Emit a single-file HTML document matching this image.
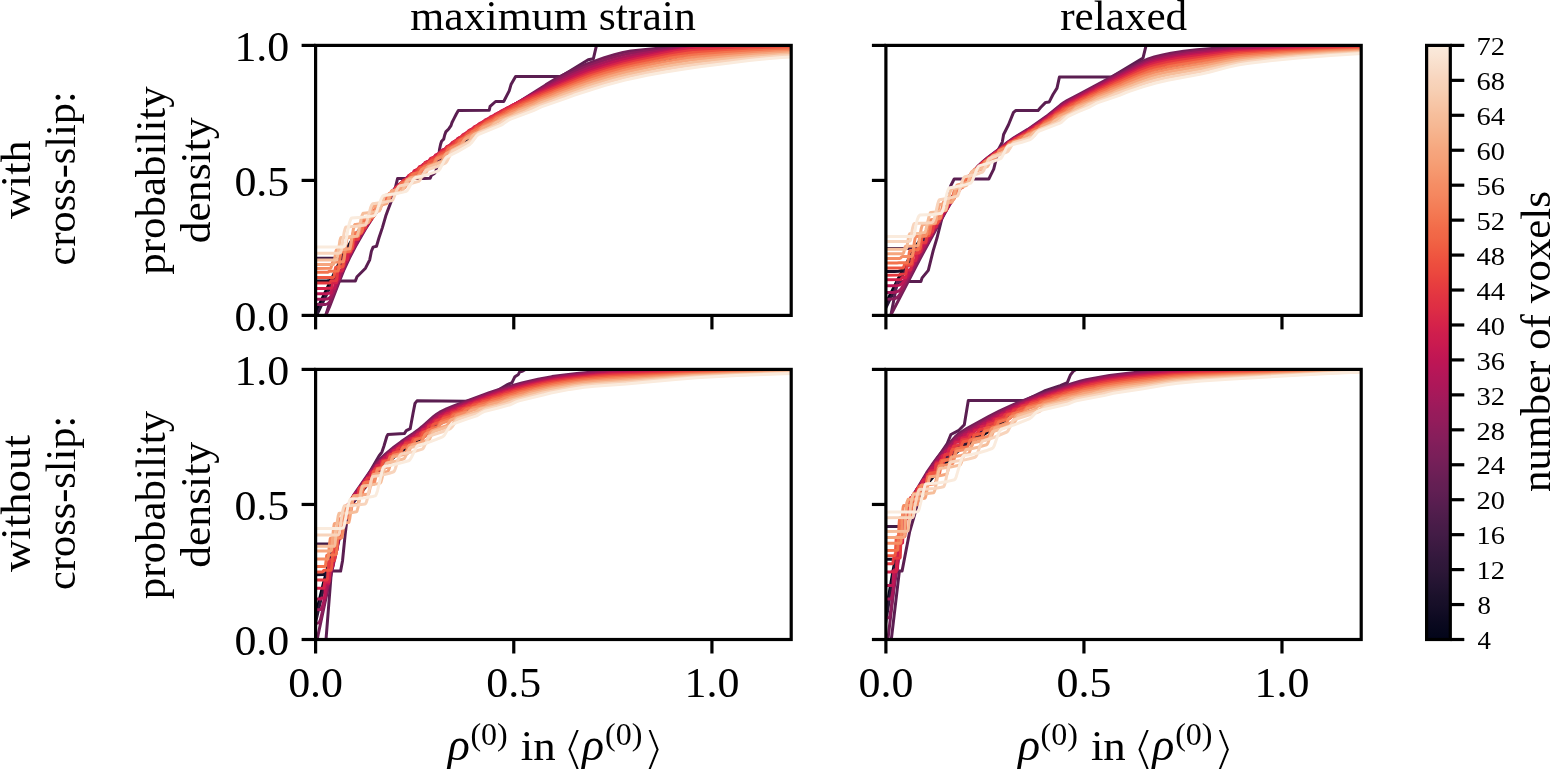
<!DOCTYPE html><html><head><meta charset="utf-8"><style>html,body{margin:0;padding:0;background:#fff;overflow:hidden}svg{display:block}text{font-family:"Liberation Serif", serif;fill:#000}</style></head><body>
<svg width="1550" height="769" viewBox="0 0 1550 769">
<rect width="1550" height="769" fill="#fff"/>
<defs>
<clipPath id="c1"><rect x="315.6" y="45.4" width="475.60" height="270.00"/></clipPath>
<clipPath id="c2"><rect x="885.9" y="45.4" width="475.30" height="270.00"/></clipPath>
<clipPath id="c3"><rect x="315.6" y="369.4" width="475.60" height="270.10"/></clipPath>
<clipPath id="c4"><rect x="885.9" y="369.4" width="475.30" height="270.10"/></clipPath>
<linearGradient id="cb" x1="0" y1="0" x2="0" y2="1"><stop offset="0.0000" stop-color="#faebdd"/><stop offset="0.0147" stop-color="#fae6d6"/><stop offset="0.0294" stop-color="#f9e0cd"/><stop offset="0.0441" stop-color="#f8dac5"/><stop offset="0.0588" stop-color="#f8d4bc"/><stop offset="0.0735" stop-color="#f7d0b5"/><stop offset="0.0882" stop-color="#f7caac"/><stop offset="0.1029" stop-color="#f7c4a4"/><stop offset="0.1176" stop-color="#f6be9b"/><stop offset="0.1324" stop-color="#f6b995"/><stop offset="0.1471" stop-color="#f6b38d"/><stop offset="0.1618" stop-color="#f6ad85"/><stop offset="0.1765" stop-color="#f6a67e"/><stop offset="0.1912" stop-color="#f6a178"/><stop offset="0.2059" stop-color="#f69b71"/><stop offset="0.2206" stop-color="#f5946b"/><stop offset="0.2353" stop-color="#f58d64"/><stop offset="0.2500" stop-color="#f58860"/><stop offset="0.2647" stop-color="#f4815a"/><stop offset="0.2794" stop-color="#f47a54"/><stop offset="0.2941" stop-color="#f3734e"/><stop offset="0.3088" stop-color="#f26b49"/><stop offset="0.3235" stop-color="#f16646"/><stop offset="0.3382" stop-color="#f05e42"/><stop offset="0.3529" stop-color="#ef5640"/><stop offset="0.3676" stop-color="#ed4e3e"/><stop offset="0.3824" stop-color="#eb483e"/><stop offset="0.3971" stop-color="#e8403e"/><stop offset="0.4118" stop-color="#e53940"/><stop offset="0.4265" stop-color="#e13342"/><stop offset="0.4412" stop-color="#de2e44"/><stop offset="0.4559" stop-color="#d92847"/><stop offset="0.4706" stop-color="#d5224a"/><stop offset="0.4853" stop-color="#cf1e4d"/><stop offset="0.5000" stop-color="#cb1b4f"/><stop offset="0.5147" stop-color="#c51852"/><stop offset="0.5294" stop-color="#bf1654"/><stop offset="0.5441" stop-color="#b91657"/><stop offset="0.5588" stop-color="#b21758"/><stop offset="0.5735" stop-color="#ad1759"/><stop offset="0.5882" stop-color="#a6195a"/><stop offset="0.6029" stop-color="#9f1a5b"/><stop offset="0.6176" stop-color="#981b5b"/><stop offset="0.6324" stop-color="#931c5b"/><stop offset="0.6471" stop-color="#8c1d5b"/><stop offset="0.6618" stop-color="#861e5b"/><stop offset="0.6765" stop-color="#7f1e5a"/><stop offset="0.6912" stop-color="#7a1f59"/><stop offset="0.7059" stop-color="#731f58"/><stop offset="0.7206" stop-color="#6d1f56"/><stop offset="0.7353" stop-color="#661f54"/><stop offset="0.7500" stop-color="#611f53"/><stop offset="0.7647" stop-color="#5b1e51"/><stop offset="0.7794" stop-color="#541e4e"/><stop offset="0.7941" stop-color="#4e1d4b"/><stop offset="0.8088" stop-color="#481c48"/><stop offset="0.8235" stop-color="#431c46"/><stop offset="0.8382" stop-color="#3d1a42"/><stop offset="0.8529" stop-color="#37193f"/><stop offset="0.8676" stop-color="#31183b"/><stop offset="0.8824" stop-color="#2d1738"/><stop offset="0.8971" stop-color="#271534"/><stop offset="0.9118" stop-color="#211330"/><stop offset="0.9265" stop-color="#1b112b"/><stop offset="0.9412" stop-color="#170f28"/><stop offset="0.9559" stop-color="#110c24"/><stop offset="0.9706" stop-color="#0b0920"/><stop offset="0.9853" stop-color="#06071c"/><stop offset="1.0000" stop-color="#03051a"/></linearGradient>
</defs>
<g clip-path="url(#c1)" fill="none" stroke-width="3" stroke-linejoin="round" stroke-linecap="butt">
<path d="M311.6,320.5 L339.8,261.6 L343.4,254.5 L346.5,248.7 L352.1,239.9 L359.2,229.8 L367.2,219.8 L375.1,210.7 L382.6,202.8 L389.0,196.5 L394.1,191.9 L398.9,188.1 L437.0,162.2 L444.9,156.3 L463.6,141.9 L472.7,135.3 L481.4,129.7 L494.9,121.9 L508.8,114.5 L542.9,96.9 L554.0,91.5 L564.7,86.7 L579.0,80.8 L590.9,76.5 L609.1,70.6 L623.0,66.9 L632.5,65.0 L653.6,61.8 L671.8,59.5 L690.0,57.6 L721.8,55.1 L751.1,53.2 L775.3,51.9 L799.1,51.1" stroke="#03051a"/>
<path d="M311.6,281.1 L327.1,281.0 L329.5,280.4 L330.7,279.8 L331.5,279.1 L333.1,277.0 L334.6,274.3 L342.6,257.8 L347.3,249.0 L352.9,240.0 L360.0,229.8 L368.8,218.5 L377.5,208.4 L389.0,196.4 L393.3,192.3 L397.3,189.0 L403.7,184.3 L436.6,161.8 L465.9,139.6 L472.7,134.8 L478.6,130.8 L489.7,124.2 L502.8,116.9 L541.7,96.4 L555.2,89.6 L575.4,80.8 L584.1,77.4 L592.1,74.6 L606.0,70.1 L616.3,67.1 L625.4,64.8 L634.1,63.2 L649.2,61.0 L664.7,59.0 L679.7,57.3 L695.2,56.0 L726.9,53.8 L753.1,52.3 L776.1,51.2 L799.1,50.5" stroke="#170f28"/>
<path d="M311.6,320.8 L314.0,320.8 L327.5,292.7 L342.2,260.4 L345.7,253.4 L350.1,245.8 L357.6,234.2 L366.4,222.1 L374.3,212.3 L383.8,201.7 L389.0,196.2 L393.0,192.4 L396.9,189.0 L401.7,185.3 L437.0,160.9 L463.2,141.1 L472.3,134.5 L482.6,127.8 L497.3,119.3 L546.9,92.6 L556.4,87.9 L567.1,83.0 L580.2,77.5 L591.3,73.3 L609.5,67.5 L623.0,63.9 L632.1,62.1 L652.4,59.2 L670.6,57.0 L688.9,55.3 L718.2,53.4 L749.5,51.7 L774.5,50.6 L799.1,49.9" stroke="#2d1738"/>
<path d="M311.6,258.2 L338.2,258.1 L341.0,257.8 L343.0,256.9 L344.6,255.5 L346.1,253.4 L354.1,240.7 L359.2,232.9 L365.6,223.9 L371.9,215.6 L378.7,207.6 L388.6,196.5 L393.7,191.4 L399.3,186.8 L404.5,183.0 L437.4,160.0 L468.3,136.8 L475.1,132.1 L481.0,128.3 L498.5,118.1 L546.9,91.5 L558.4,85.7 L573.8,78.7 L582.6,75.1 L590.9,72.1 L605.2,67.4 L615.5,64.3 L622.6,62.5 L629.4,61.1 L648.0,58.4 L673.4,55.5 L698.8,53.6 L754.3,50.7 L776.5,49.9 L799.1,49.3" stroke="#431c46"/>
<path d="M322.5,318.0 L325.9,314.7 L336.8,280.9 L355.4,280.9 L357.0,276.7 L365.5,268.2 L369.7,259.8 L371.4,251.3 L373.1,247.1 L376.5,246.2 L379.0,237.8 L382.4,227.6 L385.8,215.8 L388.3,209.0 L390.9,202.3 L392.6,198.0 L395.9,185.4 L397.6,178.4 L423.9,178.4 L430.2,178.2 L431.2,175.6 L434.3,173.5 L435.9,171.4 L437.5,164.1 L438.5,160.0 L439.5,149.5 L440.6,144.3 L441.6,141.2 L443.7,139.1 L444.7,135.0 L445.8,131.9 L448.9,128.7 L451.0,125.6 L452.0,122.5 L454.1,118.3 L456.2,114.2 L458.3,110.6 L489.2,110.3 L490.1,106.4 L495.6,101.5 L503.7,101.5 L509.2,90.9 L511.0,84.6 L515.6,76.4 L561.1,76.4 L569.5,71.2 L588.2,59.8 L593.4,58.7 L596.5,45.4 L800.0,45.4" stroke="#5b1e51"/>
<path d="M311.6,320.8 L323.1,320.8 L323.5,320.7 L329.5,306.9 L339.8,280.1 L344.2,269.3 L349.3,258.3 L355.7,246.0 L365.2,229.4 L374.3,215.2 L387.0,197.7 L391.4,192.3 L394.9,188.4 L398.5,185.1 L402.9,181.5 L424.3,165.3 L455.2,142.6 L472.3,130.5 L487.8,120.4 L521.9,100.1 L545.7,84.9 L555.6,78.9 L564.3,74.3 L574.2,69.4 L582.2,65.8 L589.7,62.8 L604.4,57.7 L614.3,54.7 L623.0,52.4 L630.9,51.0 L645.6,49.4 L660.7,48.1 L675.4,47.1 L689.6,46.5 L742.8,45.6 L799.1,45.4" stroke="#731f58"/>
<path d="M311.6,304.6 L322.3,304.6 L325.5,304.4 L326.7,304.1 L327.9,303.6 L329.5,302.1 L330.7,300.2 L332.3,296.9 L341.0,275.0 L346.1,263.2 L352.9,249.8 L360.4,236.4 L369.5,221.7 L378.7,208.7 L385.4,199.8 L389.8,194.4 L393.7,190.0 L398.1,185.7 L406.0,179.0 L423.5,165.5 L458.8,139.5 L475.5,127.9 L484.6,122.0 L495.3,115.5 L523.1,99.6 L544.9,86.7 L554.8,81.2 L564.7,76.2 L575.4,71.1 L583.3,67.6 L590.5,64.9 L604.8,60.0 L615.1,56.9 L624.2,54.6 L632.5,53.0 L649.6,50.8 L665.5,49.0 L679.3,47.7 L692.0,47.0 L709.9,46.5 L742.0,45.9 L799.1,45.5" stroke="#8c1d5b"/>
<path d="M311.6,299.2 L323.1,299.2 L326.7,299.0 L327.9,298.7 L329.1,298.2 L330.7,296.6 L331.9,294.6 L333.1,292.1 L341.0,273.0 L346.9,260.0 L354.1,246.2 L361.6,233.3 L366.8,225.2 L371.5,218.2 L376.7,211.1 L382.2,203.9 L387.4,197.5 L391.8,192.5 L395.7,188.3 L400.5,183.8 L409.2,176.4 L421.9,166.3 L459.6,138.5 L475.5,127.4 L487.0,120.1 L500.4,112.2 L530.6,95.6 L545.7,87.5 L556.8,82.0 L571.8,74.9 L581.4,70.8 L589.7,67.5 L604.4,62.6 L616.3,59.0 L626.6,56.5 L636.5,54.6 L655.9,51.6 L669.8,49.7 L682.1,48.3 L693.6,47.4 L712.7,46.8 L742.0,46.2 L799.1,45.6" stroke="#a6195a"/>
<path d="M311.6,293.8 L327.1,293.7 L328.3,293.2 L330.7,293.2 L331.1,293.0 L331.9,288.9 L332.3,288.4 L334.6,288.3 L335.0,287.5 L335.8,279.8 L336.2,279.3 L338.6,279.1 L339.0,278.3 L339.8,270.8 L340.2,270.3 L342.6,270.1 L343.0,269.3 L343.8,262.2 L344.2,261.8 L346.5,261.5 L346.9,260.8 L347.7,254.3 L348.1,253.8 L350.5,253.6 L350.9,252.8 L351.7,246.8 L352.1,246.4 L354.5,246.1 L354.9,245.4 L355.7,239.9 L356.1,239.6 L358.4,239.2 L358.8,238.5 L359.6,233.5 L360.0,233.1 L362.4,232.7 L362.8,232.1 L363.6,227.4 L364.0,227.1 L366.4,226.6 L366.8,226.0 L367.6,221.6 L368.0,221.3 L370.3,220.8 L370.7,220.2 L371.5,216.1 L371.9,215.8 L374.3,215.3 L374.7,214.7 L375.5,210.8 L375.9,210.6 L378.3,210.0 L378.7,209.5 L379.5,205.8 L379.9,205.6 L382.2,205.0 L382.6,204.4 L383.4,201.0 L386.2,200.2 L386.6,199.6 L387.4,196.4 L390.2,195.6 L390.6,195.0 L391.4,192.1 L394.1,191.2 L394.5,190.7 L395.3,188.0 L398.1,187.2 L398.5,186.7 L399.3,184.2 L402.1,183.3 L402.5,182.9 L403.3,180.6 L406.0,179.7 L406.4,179.2 L407.2,177.1 L410.0,176.2 L410.4,175.8 L411.2,173.8 L414.0,172.8 L414.4,172.4 L415.2,170.5 L417.9,169.6 L418.3,169.2 L419.1,167.5 L421.9,166.5 L422.3,166.1 L423.1,164.5 L425.9,163.5 L426.3,163.1 L427.1,161.6 L429.8,160.6 L430.2,160.2 L431.0,158.7 L433.8,157.7 L434.2,157.3 L435.0,155.9 L437.8,154.8 L438.2,154.4 L439.0,152.9 L441.7,151.8 L442.9,150.0 L445.7,148.8 L446.9,147.0 L449.7,145.8 L450.9,144.1 L453.6,142.8 L454.8,141.1 L457.6,139.8 L458.8,138.2 L461.6,136.9 L462.8,135.4 L465.5,134.0 L466.7,132.6 L469.5,131.2 L470.7,129.8 L473.5,128.4 L474.7,127.2 L477.4,125.8 L478.6,124.6 L481.4,123.3 L482.6,122.1 L485.4,120.8 L486.6,119.7 L489.3,118.4 L490.5,117.4 L493.3,116.1 L494.5,115.1 L497.3,113.8 L498.5,112.9 L501.2,111.6 L502.4,110.7 L505.2,109.4 L506.4,108.5 L509.2,107.3 L510.4,106.4 L513.1,105.1 L514.3,104.3 L517.1,103.1 L518.3,102.3 L521.1,101.0 L522.3,100.2 L534.2,94.3 L550.0,86.8 L573.8,76.2 L585.7,71.3 L597.6,67.2 L613.5,62.3 L625.0,59.2 L634.9,57.0 L657.1,52.9 L670.6,50.7 L682.9,49.0 L694.0,47.9 L712.7,47.2 L741.2,46.5 L799.1,45.8" stroke="#bf1654"/>
<path d="M311.6,288.4 L325.9,288.4 L327.5,288.2 L331.1,288.2 L331.5,288.0 L331.9,287.1 L332.7,282.9 L336.6,282.6 L337.0,280.3 L337.8,272.4 L338.2,271.1 L341.8,270.9 L342.2,270.3 L343.4,260.4 L343.8,259.8 L347.3,259.4 L347.7,258.3 L348.9,249.4 L352.9,248.8 L353.3,247.0 L354.1,241.0 L354.5,239.8 L358.0,239.3 L358.4,239.0 L359.6,231.8 L360.0,231.2 L363.6,230.6 L364.0,230.0 L365.2,223.5 L365.6,223.3 L369.2,222.6 L369.5,221.6 L370.3,217.2 L370.7,216.0 L374.7,215.1 L375.9,209.7 L376.3,209.1 L379.9,208.3 L380.3,207.9 L381.4,202.9 L381.8,202.6 L385.4,201.7 L385.8,201.0 L387.0,196.6 L391.0,195.5 L392.2,191.5 L392.6,190.8 L396.1,189.8 L396.5,189.5 L397.7,185.7 L398.1,185.3 L401.7,184.2 L402.1,183.8 L403.3,180.3 L407.2,179.0 L408.8,175.3 L412.8,173.9 L414.0,171.0 L414.4,170.6 L417.9,169.4 L418.3,169.1 L419.5,166.6 L423.5,165.2 L423.9,164.7 L425.1,162.5 L429.0,161.1 L430.2,158.9 L430.6,158.5 L434.6,157.0 L435.8,154.8 L439.8,153.1 L440.2,152.7 L441.3,150.6 L445.3,148.9 L446.9,146.5 L450.9,144.6 L452.1,142.7 L456.0,140.7 L456.4,140.4 L457.6,138.5 L461.6,136.5 L463.2,134.5 L467.1,132.5 L468.7,130.6 L472.3,128.8 L472.7,128.6 L473.9,127.1 L477.8,125.1 L479.4,123.5 L483.4,121.7 L485.0,120.2 L488.9,118.3 L490.1,117.2 L494.1,115.3 L495.7,114.0 L499.7,112.2 L501.2,111.0 L505.2,109.2 L506.4,108.3 L510.8,106.3 L511.9,105.4 L515.9,103.7 L517.5,102.7 L521.5,101.0 L523.1,100.0 L533.8,95.2 L559.5,84.6 L577.4,77.0 L589.7,72.2 L604.8,67.3 L622.2,62.3 L636.5,58.8 L659.5,53.9 L671.0,51.7 L680.9,50.0 L689.6,48.9 L698.0,48.2 L720.2,47.3 L744.8,46.6 L799.1,45.9" stroke="#d5224a"/>
<path d="M311.6,283.0 L329.5,283.0 L330.3,282.5 L331.1,280.7 L336.2,280.5 L336.6,279.6 L338.2,267.0 L338.6,266.7 L343.4,266.3 L343.8,265.5 L345.4,253.0 L345.7,252.4 L350.5,251.9 L350.9,251.5 L352.5,240.7 L352.9,239.8 L358.0,239.0 L358.4,237.6 L359.6,230.1 L360.0,228.9 L365.2,228.1 L365.6,227.1 L366.8,220.5 L367.2,219.2 L372.3,218.1 L372.7,217.6 L374.3,210.4 L374.7,210.0 L379.5,209.0 L379.9,208.7 L381.4,202.4 L381.8,201.8 L387.0,200.5 L387.4,199.6 L388.6,195.0 L389.0,194.2 L394.1,192.8 L394.5,192.2 L395.7,188.1 L396.1,187.2 L401.3,185.6 L401.7,185.2 L403.3,180.7 L403.7,180.4 L408.4,178.9 L408.8,178.7 L410.4,174.6 L410.8,174.2 L416.0,172.5 L417.5,169.1 L417.9,168.6 L423.1,166.9 L423.5,166.5 L425.1,163.5 L430.2,161.7 L430.6,161.3 L432.2,158.5 L437.8,156.2 L439.4,153.3 L439.8,153.0 L444.9,150.7 L446.9,147.6 L452.1,145.2 L454.0,142.2 L459.2,139.7 L459.6,139.4 L461.2,137.0 L466.7,134.1 L468.3,131.9 L473.9,129.1 L475.9,126.8 L481.0,124.4 L483.0,122.4 L488.1,120.1 L490.1,118.3 L495.7,115.7 L497.7,114.1 L502.8,111.8 L504.8,110.3 L510.0,108.1 L511.9,106.7 L517.1,104.5 L519.1,103.2 L524.6,100.9 L526.6,99.7 L531.8,97.7 L533.8,96.6 L538.9,94.6 L540.9,93.6 L560.7,85.6 L577.0,78.8 L591.7,73.2 L607.1,68.4 L624.2,63.6 L636.5,60.7 L663.1,55.1 L673.4,53.1 L682.5,51.7 L690.8,50.6 L698.8,50.0 L722.6,48.9 L747.6,47.9 L772.6,47.3 L799.1,46.9" stroke="#e53940"/>
<path d="M311.6,277.6 L333.1,277.5 L333.8,277.1 L334.2,276.0 L335.4,268.1 L335.8,267.2 L342.2,266.9 L342.6,266.6 L343.0,264.7 L344.6,251.5 L345.0,249.7 L345.4,249.3 L351.7,248.7 L352.1,248.1 L353.7,237.5 L354.1,235.4 L354.5,234.3 L361.2,233.4 L361.6,232.5 L362.0,230.6 L363.2,223.6 L363.6,222.1 L364.0,221.5 L368.8,220.7 L370.7,220.2 L371.1,219.2 L372.3,213.3 L373.1,210.5 L373.5,210.2 L379.9,208.9 L380.3,208.5 L381.8,202.3 L382.6,200.2 L389.4,198.6 L389.8,198.0 L390.2,196.9 L391.8,191.4 L392.2,191.0 L398.9,189.1 L399.3,188.4 L401.3,182.8 L401.7,182.5 L408.0,180.7 L408.4,180.4 L410.0,176.4 L410.8,175.0 L417.5,172.8 L418.3,171.7 L419.5,169.0 L420.3,167.9 L427.1,165.7 L427.5,165.3 L429.4,161.6 L436.6,158.9 L439.0,154.8 L445.7,151.9 L446.5,151.0 L447.7,148.7 L448.5,147.7 L455.2,144.5 L457.6,140.8 L464.7,137.1 L467.1,133.9 L473.9,130.5 L476.6,127.5 L483.4,124.4 L486.2,121.9 L492.9,118.8 L495.3,116.8 L502.0,113.8 L504.8,111.8 L511.6,108.9 L514.3,107.1 L521.1,104.2 L523.5,102.8 L530.6,99.9 L533.0,98.6 L539.7,96.0 L542.1,94.8 L558.8,88.3 L579.8,79.7 L589.7,76.0 L607.9,70.2 L621.0,66.5 L635.7,63.0 L655.1,58.9 L668.2,56.3 L678.9,54.4 L688.9,53.1 L698.0,52.2 L723.0,50.7 L748.8,49.5 L773.3,48.7 L799.1,48.1" stroke="#ef5640"/>
<path d="M311.6,272.2 L327.5,272.2 L328.3,272.0 L329.1,271.3 L329.5,271.2 L337.8,271.1 L338.2,270.7 L338.6,269.4 L340.2,256.7 L341.0,252.4 L341.4,252.0 L349.7,251.2 L350.1,250.3 L350.5,248.2 L352.1,237.0 L352.9,233.5 L353.3,233.1 L361.6,232.1 L362.0,231.4 L362.4,230.0 L364.0,221.3 L364.8,218.4 L365.2,218.0 L373.5,216.6 L373.9,216.1 L374.3,215.0 L375.9,208.0 L376.7,205.5 L377.1,205.0 L383.8,203.7 L385.4,203.3 L385.8,203.0 L386.6,200.8 L388.2,195.1 L389.0,193.7 L394.9,192.3 L397.3,191.6 L397.7,191.3 L398.5,189.6 L400.1,184.7 L400.9,183.4 L406.4,182.0 L409.6,180.9 L410.4,179.5 L412.0,175.5 L412.8,174.3 L421.5,171.6 L422.3,170.5 L423.9,167.1 L424.7,166.1 L433.4,163.1 L434.2,162.1 L435.8,159.0 L436.6,157.9 L445.3,154.2 L446.1,153.2 L447.7,150.2 L448.5,149.1 L457.2,144.7 L458.0,143.9 L460.4,140.1 L469.1,135.6 L469.9,134.8 L472.3,131.6 L481.0,127.4 L481.8,126.9 L484.2,124.4 L493.3,120.2 L496.5,117.6 L505.2,113.8 L508.4,111.6 L517.1,107.9 L520.3,105.9 L529.0,102.4 L532.2,100.7 L540.9,97.4 L544.1,95.8 L552.8,92.6 L556.0,91.1 L564.7,87.8 L579.8,81.8 L592.1,77.3 L606.7,72.8 L622.6,68.4 L634.9,65.4 L655.5,61.1 L668.2,58.6 L678.9,56.8 L688.9,55.4 L698.4,54.4 L725.0,52.6 L750.7,51.1 L774.5,50.1 L799.1,49.4" stroke="#f3734e"/>
<path d="M311.6,268.4 L330.3,268.3 L330.7,268.1 L331.1,267.5 L332.3,262.9 L332.7,262.1 L339.8,261.9 L343.4,261.5 L344.2,258.6 L346.1,243.2 L346.9,238.8 L347.3,237.7 L347.7,237.3 L355.7,236.6 L358.0,236.3 L358.4,235.9 L359.2,233.1 L361.2,222.3 L362.0,219.5 L362.4,218.8 L368.8,217.9 L373.1,217.1 L373.9,215.6 L376.3,205.9 L377.1,203.9 L377.5,203.6 L383.8,202.4 L388.2,201.3 L389.0,199.8 L391.4,192.1 L392.2,190.7 L402.9,187.9 L403.7,187.0 L406.0,180.9 L406.8,179.5 L407.2,179.2 L412.8,177.7 L417.9,176.1 L418.7,175.1 L420.7,170.9 L421.9,169.1 L429.4,166.7 L433.0,165.4 L433.8,164.4 L436.2,159.9 L437.0,159.0 L442.5,156.7 L447.7,154.4 L448.9,152.9 L450.9,149.1 L451.7,148.0 L462.8,142.2 L463.6,141.3 L465.9,137.6 L466.7,136.7 L477.4,131.4 L478.2,130.8 L481.4,127.4 L492.5,122.4 L496.5,119.1 L507.6,114.3 L511.6,111.7 L522.3,107.3 L526.2,105.0 L537.3,100.8 L541.3,98.8 L552.4,94.7 L556.0,93.1 L567.1,89.0 L571.4,87.1 L585.7,81.8 L592.5,79.5 L606.4,75.2 L622.6,70.7 L635.3,67.7 L655.5,63.5 L668.2,61.1 L679.3,59.2 L689.6,57.8 L699.2,56.7 L726.9,54.5 L752.3,52.8 L775.3,51.6 L799.1,50.7" stroke="#f58d64"/>
<path d="M311.6,264.6 L331.9,264.6 L333.1,264.5 L333.5,264.3 L333.8,263.5 L334.2,261.8 L335.8,251.8 L336.2,250.4 L336.6,249.7 L344.2,249.4 L349.7,248.7 L350.5,246.3 L353.3,229.5 L354.5,225.1 L354.9,224.5 L355.3,224.4 L362.0,223.8 L368.0,222.9 L368.4,222.4 L369.2,220.3 L371.9,208.8 L372.7,206.8 L373.1,206.2 L381.8,204.8 L386.2,203.8 L386.6,203.6 L387.8,201.0 L390.2,193.4 L391.4,191.1 L391.8,190.9 L400.1,189.1 L404.9,187.8 L406.0,186.0 L408.4,180.2 L409.6,178.3 L410.0,178.0 L416.8,176.3 L423.1,174.3 L424.3,172.9 L427.1,167.6 L428.3,166.3 L435.0,164.0 L441.3,161.5 L442.5,160.2 L445.3,154.8 L446.5,153.3 L454.0,149.7 L460.0,146.4 L461.2,144.9 L463.6,140.8 L464.7,139.4 L478.2,132.6 L479.4,131.6 L482.2,128.5 L483.4,127.7 L496.5,121.9 L501.2,118.3 L515.1,112.5 L519.9,109.6 L533.4,104.4 L538.1,102.0 L551.6,97.1 L556.4,95.0 L569.9,90.1 L575.0,88.0 L592.9,81.7 L610.7,76.3 L619.8,73.8 L631.3,71.0 L647.2,67.6 L663.5,64.5 L675.4,62.4 L687.3,60.6 L698.4,59.3 L727.7,56.5 L753.1,54.5 L776.1,53.1 L799.1,52.1" stroke="#f6a67e"/>
<path d="M311.6,260.0 L334.6,260.0 L336.2,259.8 L336.6,259.6 L337.0,258.8 L337.4,257.3 L339.8,241.1 L340.6,238.2 L341.0,237.5 L350.1,237.0 L356.9,236.1 L357.3,235.7 L358.0,233.5 L361.2,218.6 L362.0,215.7 L362.8,213.8 L363.2,213.3 L363.6,213.2 L372.7,212.2 L378.7,211.1 L379.5,210.8 L380.7,208.4 L383.8,198.2 L384.6,196.4 L385.4,195.3 L394.9,193.5 L401.7,191.7 L402.9,190.0 L406.0,182.6 L406.8,181.2 L407.6,180.3 L416.8,178.0 L423.9,175.8 L425.1,174.5 L428.3,168.6 L429.0,167.4 L429.8,166.6 L438.6,163.4 L446.1,160.1 L447.3,158.7 L450.5,152.6 L452.1,150.3 L460.8,145.9 L468.3,141.7 L469.5,140.5 L472.7,135.9 L474.3,134.3 L490.5,127.0 L491.7,126.3 L494.9,123.4 L496.5,122.3 L513.1,115.4 L519.1,111.8 L535.4,105.6 L541.3,102.7 L557.6,96.9 L563.5,94.4 L586.1,86.3 L606.0,80.1 L613.1,78.1 L628.2,74.2 L639.7,71.7 L656.3,68.4 L672.2,65.5 L685.7,63.4 L698.4,61.8 L728.5,58.6 L753.9,56.3 L776.5,54.7 L799.1,53.5" stroke="#f6be9b"/>
<path d="M311.6,253.3 L338.6,253.2 L340.2,252.9 L341.0,251.5 L341.4,249.8 L344.2,232.1 L345.0,229.1 L345.7,227.3 L346.1,226.9 L346.5,226.9 L356.5,226.3 L365.2,225.1 L366.0,224.0 L366.8,221.9 L370.7,207.4 L371.9,204.7 L372.7,203.8 L383.8,202.3 L389.8,201.1 L392.2,200.5 L393.0,199.5 L393.7,197.9 L397.3,188.8 L398.5,186.7 L399.3,186.0 L410.0,183.8 L418.7,181.4 L419.5,180.7 L420.3,179.6 L424.3,172.3 L425.9,170.3 L436.6,166.8 L445.3,163.1 L446.1,162.4 L446.9,161.3 L450.9,153.5 L452.4,151.3 L453.2,150.8 L463.2,145.7 L472.3,140.6 L473.9,138.9 L477.0,134.8 L479.0,132.9 L498.9,124.4 L500.4,123.4 L504.4,120.3 L506.0,119.4 L525.4,111.8 L532.6,108.1 L552.4,101.0 L559.5,98.1 L585.7,88.9 L593.3,86.5 L610.7,81.3 L619.0,79.0 L630.9,76.1 L646.0,73.0 L664.3,69.5 L680.5,66.8 L695.2,64.8 L716.6,62.2 L740.4,59.5 L761.0,57.5 L779.7,56.1 L799.1,55.0" stroke="#f8d4bc"/>
<path d="M311.6,247.1 L342.6,246.9 L344.2,246.6 L345.0,245.6 L345.7,242.8 L347.7,230.7 L349.3,223.4 L350.5,219.7 L351.3,218.3 L351.7,217.9 L365.2,216.9 L371.9,216.0 L374.3,215.6 L374.7,215.4 L375.5,214.3 L376.7,211.6 L381.1,199.1 L382.2,196.8 L383.4,195.6 L395.3,193.8 L402.1,192.4 L406.4,191.2 L407.2,190.5 L408.4,188.7 L413.2,179.7 L414.8,177.9 L415.6,177.5 L421.9,176.1 L428.3,174.4 L434.2,172.4 L438.2,170.9 L439.0,170.1 L440.2,168.5 L444.5,159.9 L445.7,158.0 L446.5,157.2 L458.0,151.4 L469.5,144.8 L471.5,142.8 L475.9,136.8 L477.0,135.6 L478.2,134.7 L501.2,125.1 L503.2,123.9 L508.0,120.5 L510.0,119.4 L533.4,110.6 L541.3,106.8 L565.1,98.6 L573.8,95.3 L604.4,85.6 L625.0,80.1 L635.7,77.7 L647.2,75.3 L665.5,72.0 L682.9,69.2 L699.6,66.8 L729.7,62.9 L749.1,60.6 L766.6,58.8 L782.1,57.5 L799.1,56.5" stroke="#faebdd"/>
</g>
<g clip-path="url(#c2)" fill="none" stroke-width="3" stroke-linejoin="round" stroke-linecap="butt">
<path d="M881.9,311.4 L889.9,295.1 L898.6,277.9 L908.1,260.1 L916.0,245.9 L922.0,237.4 L934.3,221.6 L952.5,196.4 L958.4,189.0 L964.4,182.4 L972.7,174.0 L981.8,165.8 L989.0,160.1 L1008.8,145.0 L1014.3,141.6 L1025.4,135.7 L1030.6,132.7 L1047.2,122.3 L1061.9,112.8 L1075.4,105.0 L1088.5,98.4 L1102.7,91.7 L1140.4,75.4 L1147.5,72.7 L1154.3,70.6 L1161.4,68.9 L1170.5,67.0 L1226.8,57.8 L1235.1,56.6 L1242.7,55.8 L1270.8,53.7 L1300.5,52.0 L1331.9,50.7 L1369.1,49.5" stroke="#03051a"/>
<path d="M881.9,271.4 L894.6,271.4 L898.6,271.2 L901.4,270.5 L902.6,269.7 L903.7,268.7 L905.3,266.7 L906.9,264.2 L915.2,249.4 L919.2,243.3 L933.5,223.9 L947.7,203.4 L954.5,194.2 L960.8,186.4 L968.8,177.8 L976.7,170.0 L984.6,163.2 L1006.0,146.6 L1009.6,144.1 L1014.3,141.1 L1025.8,134.9 L1032.2,131.2 L1047.2,121.6 L1063.1,111.1 L1071.0,106.5 L1079.0,102.3 L1093.2,95.2 L1106.7,88.8 L1140.0,74.2 L1147.9,71.1 L1155.1,68.9 L1165.0,66.6 L1176.5,64.5 L1224.4,57.0 L1233.9,55.7 L1242.3,54.8 L1279.9,52.4 L1321.2,50.5 L1369.1,49.1" stroke="#170f28"/>
<path d="M881.9,315.8 L889.9,299.7 L899.4,281.1 L909.3,262.4 L916.4,249.6 L921.6,241.7 L933.5,225.0 L951.7,198.3 L958.0,189.9 L965.2,181.5 L973.5,172.8 L981.8,165.1 L988.6,159.7 L1008.4,144.5 L1013.9,141.0 L1025.8,134.4 L1031.8,130.9 L1047.2,120.9 L1061.5,111.1 L1071.4,105.4 L1085.7,97.9 L1102.3,89.8 L1140.0,72.8 L1147.5,69.9 L1153.9,67.8 L1160.6,66.2 L1169.7,64.3 L1184.4,61.8 L1222.8,56.1 L1233.2,54.8 L1241.9,53.9 L1270.0,52.2 L1300.1,50.7 L1331.9,49.6 L1369.1,48.7" stroke="#2d1738"/>
<path d="M881.9,248.4 L911.7,248.4 L914.8,248.0 L916.4,247.4 L917.6,246.8 L919.2,245.5 L920.8,243.8 L925.9,237.0 L933.5,226.2 L950.1,200.9 L954.9,194.2 L959.2,188.5 L966.4,180.2 L973.5,172.6 L980.2,166.2 L987.4,160.2 L1006.4,145.6 L1010.0,143.0 L1015.1,139.9 L1026.6,133.5 L1033.0,129.6 L1047.2,120.2 L1060.7,110.8 L1066.3,107.3 L1078.6,100.7 L1101.5,89.1 L1133.3,74.5 L1142.0,70.7 L1148.7,68.1 L1154.7,66.2 L1162.6,64.3 L1171.7,62.5 L1190.7,59.5 L1223.2,55.0 L1235.5,53.6 L1243.1,52.9 L1258.5,52.0 L1293.8,50.4 L1328.3,49.2 L1369.1,48.3" stroke="#431c46"/>
<path d="M890.3,318.1 L891.2,313.6 L897.4,281.5 L920.9,281.5 L922.1,277.9 L928.3,270.4 L933.2,250.6 L936.9,238.3 L941.9,218.5 L945.6,208.6 L950.5,186.3 L954.2,179.0 L988.8,179.0 L991.2,174.2 L993.7,169.1 L998.6,149.3 L1002.3,142.1 L1003.6,134.5 L1008.5,124.8 L1013.5,112.4 L1015.9,110.5 L1038.1,110.5 L1040.6,107.5 L1045.6,102.4 L1049.1,102.1 L1053.0,94.5 L1057.0,88.1 L1059.4,77.1 L1111.5,77.1 L1143.0,58.1 L1146.1,45.4 L1400.8,45.4" stroke="#5b1e51"/>
<path d="M881.9,320.8 L887.9,320.7 L919.6,259.5 L946.2,210.7 L952.5,199.9 L958.0,191.3 L964.8,181.9 L971.5,173.4 L977.5,166.7 L983.4,161.1 L988.2,157.2 L998.9,149.1 L1007.6,142.2 L1013.9,137.8 L1027.8,129.4 L1037.7,122.6 L1048.0,115.2 L1060.7,104.8 L1063.9,102.6 L1067.1,100.6 L1080.5,93.7 L1109.9,77.9 L1135.2,64.9 L1142.0,61.7 L1148.3,59.0 L1154.3,57.0 L1161.4,55.3 L1170.9,53.3 L1183.6,51.3 L1196.7,49.8 L1218.1,48.0 L1235.5,47.0 L1290.6,46.1 L1369.1,45.6" stroke="#731f58"/>
<path d="M881.9,299.2 L891.1,299.1 L894.6,298.7 L895.8,298.3 L897.0,297.6 L898.2,296.5 L899.4,294.9 L902.9,288.9 L915.2,265.4 L922.4,252.2 L943.0,215.5 L951.3,201.4 L958.0,191.1 L965.2,181.4 L972.7,172.2 L979.5,165.1 L983.0,161.8 L987.0,158.5 L998.9,149.5 L1008.8,141.7 L1014.3,138.0 L1027.4,130.2 L1037.7,123.3 L1047.6,116.2 L1058.7,107.3 L1063.5,103.9 L1069.0,100.6 L1079.7,95.1 L1107.1,80.5 L1138.0,65.0 L1144.4,62.2 L1150.3,59.8 L1156.3,58.0 L1165.8,55.9 L1176.1,54.0 L1186.8,52.4 L1197.9,51.1 L1216.9,49.4 L1229.6,48.4 L1241.1,47.9 L1298.2,46.7 L1369.1,46.1" stroke="#8c1d5b"/>
<path d="M881.9,292.4 L892.6,292.4 L896.2,292.1 L898.6,291.2 L899.8,290.3 L901.0,289.0 L902.6,286.6 L904.5,283.2 L915.2,263.0 L922.0,250.9 L944.2,212.7 L952.1,199.7 L958.4,190.3 L966.0,180.4 L973.5,171.6 L980.2,164.7 L987.4,158.6 L1009.2,141.9 L1014.7,138.3 L1027.4,130.8 L1036.9,124.5 L1047.6,117.0 L1058.7,108.3 L1063.5,104.9 L1069.8,101.2 L1108.7,80.9 L1138.4,66.3 L1144.8,63.5 L1150.7,61.3 L1156.6,59.5 L1166.6,57.3 L1176.9,55.5 L1188.0,53.8 L1198.7,52.6 L1220.1,50.4 L1231.6,49.5 L1241.9,48.9 L1299.0,47.4 L1369.1,46.5" stroke="#a6195a"/>
<path d="M881.9,285.7 L893.8,285.7 L897.8,285.4 L899.4,285.1 L900.6,284.6 L901.8,283.7 L902.9,282.4 L906.1,277.5 L915.6,259.9 L921.6,249.5 L945.0,210.6 L952.9,198.1 L959.2,189.0 L967.2,179.0 L974.3,171.0 L981.4,164.0 L987.8,158.7 L1009.2,142.3 L1014.7,138.7 L1027.0,131.6 L1036.1,125.7 L1047.2,118.0 L1058.7,109.3 L1063.5,106.0 L1071.0,101.7 L1110.7,81.2 L1138.8,67.7 L1145.2,64.9 L1151.1,62.7 L1157.0,61.0 L1167.4,58.8 L1177.7,56.9 L1189.2,55.2 L1222.8,51.4 L1233.6,50.5 L1242.7,49.9 L1270.4,48.9 L1300.1,48.1 L1369.1,47.0" stroke="#bf1654"/>
<path d="M881.9,279.8 L900.6,279.6 L901.0,279.4 L901.8,277.8 L902.2,277.6 L905.3,277.5 L905.7,277.3 L906.9,270.3 L907.3,270.1 L910.5,269.9 L910.9,269.1 L912.1,260.8 L915.6,260.4 L916.0,259.3 L916.8,253.3 L917.2,251.8 L920.8,251.5 L921.2,250.2 L922.0,244.6 L922.4,243.6 L925.9,243.1 L927.1,236.4 L927.5,235.7 L931.1,235.0 L932.3,228.1 L932.7,227.6 L935.9,227.0 L936.2,226.7 L937.4,219.6 L937.8,219.3 L941.0,218.6 L941.4,218.1 L942.6,211.3 L946.2,210.3 L946.6,209.5 L947.3,204.6 L947.7,203.2 L951.3,202.2 L951.7,201.2 L952.5,196.7 L952.9,195.7 L956.5,194.5 L956.9,193.4 L957.7,189.4 L958.0,188.7 L961.6,187.5 L962.8,182.9 L963.2,182.4 L966.8,181.1 L968.0,176.8 L968.4,176.5 L971.5,175.4 L971.9,175.1 L973.1,171.2 L976.7,169.9 L977.1,169.5 L978.3,166.2 L981.8,165.0 L982.2,164.5 L983.0,162.4 L983.4,161.8 L987.0,160.6 L987.4,160.1 L988.2,158.2 L988.6,157.8 L992.1,156.6 L993.3,154.3 L993.7,153.9 L997.3,152.7 L998.5,150.4 L1002.4,148.6 L1003.6,146.3 L1007.6,144.5 L1008.8,142.4 L1012.4,141.1 L1012.8,140.8 L1013.9,139.2 L1017.5,138.0 L1019.1,136.3 L1022.7,135.1 L1024.2,133.4 L1027.8,132.1 L1029.4,130.3 L1033.0,128.8 L1034.2,127.3 L1038.1,125.4 L1039.3,123.9 L1042.9,122.1 L1044.5,120.4 L1048.0,118.5 L1049.6,116.8 L1053.2,114.7 L1054.8,112.9 L1058.3,110.8 L1059.9,109.2 L1063.5,107.2 L1064.7,106.1 L1068.6,104.2 L1069.8,103.2 L1073.8,101.4 L1075.0,100.5 L1078.6,98.9 L1080.1,97.8 L1083.7,96.2 L1085.3,95.2 L1088.9,93.5 L1090.4,92.5 L1094.0,90.9 L1095.6,89.9 L1110.7,82.4 L1141.2,68.1 L1146.3,66.0 L1151.5,64.2 L1156.6,62.7 L1167.0,60.4 L1176.9,58.6 L1188.8,56.8 L1224.0,52.5 L1233.9,51.6 L1243.1,50.9 L1270.8,49.8 L1300.5,48.8 L1331.9,48.1 L1369.1,47.4" stroke="#d5224a"/>
<path d="M881.9,275.2 L898.6,275.1 L899.4,275.0 L900.6,274.2 L905.3,274.1 L905.7,273.5 L906.9,266.4 L907.3,265.5 L912.1,265.2 L912.5,263.7 L913.7,254.4 L914.0,253.4 L918.8,253.0 L919.2,251.8 L920.4,243.8 L920.8,242.7 L925.5,242.2 L925.9,241.2 L927.1,233.9 L927.5,232.7 L932.3,232.0 L932.7,231.2 L933.9,223.9 L934.3,222.5 L939.0,221.4 L939.4,220.8 L941.0,212.0 L945.8,210.7 L946.2,210.2 L947.7,201.9 L948.1,201.6 L952.5,200.3 L952.9,199.9 L954.5,192.4 L954.9,192.1 L959.2,190.7 L959.6,190.5 L961.2,184.1 L961.6,183.7 L966.4,182.1 L968.0,176.6 L968.4,176.1 L973.1,174.5 L974.7,169.8 L975.1,169.3 L979.9,167.7 L980.2,167.1 L981.4,163.8 L981.8,163.3 L986.6,161.7 L987.0,161.3 L988.2,158.4 L988.6,158.0 L993.3,156.4 L993.7,156.0 L995.3,153.0 L1000.1,151.2 L1000.5,150.9 L1002.1,147.8 L1006.8,145.8 L1007.2,145.5 L1008.8,142.8 L1013.9,140.8 L1015.5,138.8 L1020.7,137.0 L1022.3,135.1 L1027.4,133.1 L1029.0,131.2 L1034.2,128.9 L1035.7,126.9 L1040.9,124.4 L1042.9,122.2 L1047.6,119.9 L1049.6,117.6 L1054.4,115.0 L1056.4,112.8 L1061.1,110.2 L1063.1,108.2 L1067.9,106.0 L1069.8,104.4 L1075.0,102.1 L1076.6,100.9 L1081.7,98.6 L1083.3,97.4 L1088.5,95.1 L1090.1,94.0 L1095.2,91.6 L1096.8,90.6 L1101.9,88.3 L1103.5,87.3 L1108.7,85.0 L1110.7,83.9 L1122.2,78.8 L1137.6,71.5 L1144.4,68.7 L1151.5,66.1 L1157.8,64.4 L1167.7,62.2 L1178.5,60.3 L1191.5,58.4 L1226.4,53.8 L1235.5,52.8 L1243.9,52.2 L1271.6,50.8 L1300.9,49.6 L1331.9,48.8 L1369.1,48.0" stroke="#e53940"/>
<path d="M881.9,268.1 L902.6,268.1 L903.3,267.8 L903.7,267.1 L904.5,264.5 L904.9,264.2 L910.9,264.0 L911.3,263.6 L911.7,261.8 L912.9,252.4 L913.3,250.3 L913.7,249.5 L919.6,249.1 L920.0,248.8 L920.4,247.2 L921.6,239.5 L922.0,237.5 L922.4,236.6 L928.7,235.8 L929.1,234.7 L930.7,225.7 L931.1,224.5 L937.4,223.3 L937.8,222.4 L939.4,213.1 L939.8,211.7 L940.2,211.4 L946.2,210.0 L946.6,209.4 L946.9,207.6 L948.5,199.2 L948.9,198.8 L954.9,197.1 L955.3,196.7 L955.7,195.3 L956.9,189.4 L957.3,188.0 L957.7,187.5 L962.4,186.1 L964.0,185.5 L964.4,184.5 L965.6,179.7 L966.4,177.8 L972.7,175.7 L973.1,175.0 L974.7,169.9 L975.1,169.3 L981.4,167.1 L981.8,166.7 L983.4,162.5 L983.8,161.9 L990.2,159.7 L991.0,158.7 L992.5,155.3 L999.3,152.7 L1001.3,148.8 L1001.7,148.4 L1008.0,145.8 L1009.6,143.1 L1010.4,142.2 L1016.7,140.1 L1019.1,137.4 L1025.4,135.2 L1026.2,134.5 L1027.8,132.6 L1034.2,129.9 L1035.0,129.2 L1036.5,127.2 L1043.3,124.0 L1045.3,121.6 L1052.0,118.1 L1054.4,115.4 L1060.7,112.0 L1063.1,109.7 L1069.4,106.7 L1071.8,104.8 L1078.2,101.9 L1080.5,100.2 L1087.3,97.2 L1089.7,95.7 L1096.0,92.9 L1098.4,91.4 L1104.7,88.7 L1107.1,87.3 L1113.4,84.6 L1115.8,83.4 L1122.2,80.7 L1133.7,75.4 L1142.4,71.7 L1150.7,68.6 L1155.9,67.2 L1168.1,64.4 L1177.7,62.7 L1225.6,55.6 L1234.7,54.5 L1242.7,53.8 L1281.5,51.5 L1321.9,49.9 L1369.1,48.7" stroke="#ef5640"/>
<path d="M881.9,263.0 L897.0,263.0 L899.0,262.8 L906.5,262.7 L907.3,262.5 L907.7,261.8 L908.1,260.4 L909.3,252.6 L909.7,250.9 L910.1,250.6 L916.8,250.1 L917.6,250.0 L918.0,249.8 L918.8,246.1 L920.0,238.3 L920.8,234.9 L921.2,234.4 L929.1,233.5 L929.9,231.1 L931.5,222.2 L931.9,220.6 L932.3,219.9 L940.2,218.5 L940.6,217.8 L941.0,216.3 L942.6,207.1 L943.4,204.4 L951.3,202.4 L951.7,201.9 L952.5,198.8 L953.7,192.6 L954.5,190.1 L954.9,189.8 L961.6,187.9 L962.8,187.4 L963.6,185.2 L964.8,180.4 L965.6,178.2 L966.0,177.9 L973.9,175.4 L974.7,173.7 L975.9,169.9 L976.7,168.0 L977.1,167.6 L985.0,165.0 L985.8,163.9 L987.4,159.9 L988.2,158.8 L996.1,156.1 L996.9,155.2 L998.5,151.7 L999.3,150.5 L1007.6,147.1 L1009.6,143.7 L1010.4,142.7 L1018.7,139.9 L1021.5,136.8 L1029.8,133.8 L1030.6,133.1 L1032.2,130.9 L1033.0,130.2 L1040.9,126.8 L1041.7,126.1 L1043.3,124.1 L1044.1,123.3 L1052.4,119.2 L1055.2,116.2 L1063.5,111.9 L1066.3,109.4 L1074.6,105.5 L1077.4,103.3 L1085.7,99.7 L1088.9,97.6 L1096.8,94.2 L1100.0,92.4 L1108.3,88.9 L1111.1,87.4 L1119.4,84.0 L1122.2,82.7 L1130.5,79.1 L1133.7,77.6 L1144.4,73.3 L1149.5,71.5 L1155.9,69.6 L1167.0,67.1 L1178.1,65.1 L1228.4,57.1 L1236.3,56.0 L1243.9,55.3 L1264.1,53.8 L1285.5,52.5 L1323.9,50.8 L1369.1,49.4" stroke="#f3734e"/>
<path d="M881.9,258.4 L899.8,258.4 L900.6,258.1 L901.8,256.7 L902.2,256.6 L911.7,256.4 L912.1,256.2 L912.5,255.4 L912.9,253.7 L914.4,242.0 L915.2,238.0 L915.6,236.9 L916.0,236.6 L922.4,236.2 L925.9,235.7 L926.7,233.4 L928.7,223.3 L929.5,220.4 L929.9,219.9 L935.1,219.3 L939.8,218.4 L940.6,216.4 L942.6,205.7 L943.4,202.5 L943.8,201.8 L948.9,200.7 L953.7,199.3 L954.1,198.9 L954.5,197.8 L956.5,188.7 L957.3,186.1 L957.7,185.4 L964.8,183.5 L967.6,182.6 L968.0,182.3 L968.8,180.6 L970.7,173.9 L971.5,172.3 L981.8,169.0 L982.6,167.7 L984.6,162.5 L985.4,161.1 L985.8,160.8 L995.7,157.5 L996.5,156.6 L998.9,151.5 L999.7,150.5 L1009.6,146.5 L1010.4,145.8 L1012.8,142.1 L1013.5,141.4 L1023.9,138.2 L1024.6,137.5 L1027.4,134.3 L1037.7,130.0 L1038.5,129.3 L1041.3,126.0 L1051.6,121.2 L1052.4,120.6 L1054.4,118.3 L1055.6,117.3 L1065.9,112.3 L1069.4,109.2 L1079.7,104.4 L1083.3,101.9 L1093.6,97.6 L1097.2,95.5 L1107.5,91.3 L1111.5,89.2 L1121.4,85.4 L1125.3,83.4 L1139.6,77.5 L1147.5,74.7 L1155.5,72.2 L1166.6,69.7 L1172.9,68.5 L1203.0,63.6 L1232.4,58.4 L1241.1,57.2 L1252.2,56.2 L1290.6,53.4 L1326.7,51.6 L1369.1,50.1" stroke="#f58d64"/>
<path d="M881.9,253.8 L902.6,253.8 L903.3,253.3 L903.7,252.6 L904.9,247.7 L905.3,246.6 L905.7,246.3 L914.4,245.9 L917.6,245.6 L918.0,245.3 L918.8,242.2 L921.2,228.8 L922.4,224.9 L922.8,224.5 L929.5,223.9 L935.1,223.2 L935.5,222.6 L936.2,220.2 L938.6,208.0 L939.4,205.2 L939.8,204.5 L948.9,202.6 L952.1,201.7 L952.5,201.2 L953.3,199.0 L955.7,188.3 L956.9,185.2 L957.3,184.9 L965.6,182.9 L969.5,181.5 L970.3,180.1 L972.7,172.8 L973.9,170.2 L974.3,169.8 L980.6,168.1 L986.6,166.0 L987.8,164.3 L990.2,158.6 L991.3,156.8 L999.3,154.1 L1004.0,152.1 L1004.8,151.0 L1007.2,146.2 L1008.4,144.7 L1021.1,140.7 L1022.3,139.7 L1025.4,136.1 L1038.1,131.1 L1039.3,130.1 L1041.7,127.1 L1042.9,126.0 L1055.6,120.3 L1059.9,116.2 L1072.6,110.1 L1076.2,107.2 L1077.4,106.4 L1090.1,101.1 L1094.4,98.5 L1107.1,93.5 L1111.5,91.3 L1124.1,86.4 L1129.3,84.1 L1145.2,78.0 L1155.9,74.8 L1163.0,73.1 L1169.7,71.7 L1202.6,66.1 L1225.6,61.5 L1235.1,59.8 L1243.1,58.8 L1258.9,57.2 L1294.2,54.4 L1328.7,52.5 L1369.1,50.9" stroke="#f6a67e"/>
<path d="M881.9,249.2 L904.5,249.2 L905.7,249.1 L906.1,248.9 L906.5,248.4 L906.9,247.2 L908.5,237.4 L908.9,235.6 L909.7,233.8 L919.2,233.3 L924.8,232.6 L925.1,232.0 L925.9,229.6 L929.1,216.2 L930.3,212.8 L930.7,212.4 L936.2,211.9 L941.4,211.0 L945.4,210.2 L945.8,209.8 L946.9,206.5 L949.7,193.5 L950.9,189.9 L951.3,189.3 L951.7,189.1 L959.2,187.5 L966.4,185.5 L966.8,185.1 L967.6,183.5 L970.7,173.9 L971.5,172.2 L972.3,171.3 L980.2,169.2 L987.4,166.7 L988.6,164.9 L991.7,157.5 L992.9,155.8 L1001.3,152.9 L1008.0,150.0 L1009.2,148.8 L1012.0,144.2 L1013.5,142.5 L1023.5,139.6 L1029.0,137.7 L1030.2,136.8 L1033.4,132.9 L1034.6,131.8 L1050.0,125.2 L1051.2,124.3 L1055.2,120.4 L1065.5,115.7 L1070.6,113.2 L1076.2,108.6 L1091.6,102.2 L1097.6,99.0 L1112.6,93.3 L1117.8,90.9 L1133.3,85.2 L1138.8,82.8 L1147.9,79.8 L1156.6,77.3 L1161.8,76.0 L1170.1,74.3 L1203.0,68.5 L1226.0,63.5 L1235.1,61.7 L1243.1,60.5 L1258.9,58.8 L1294.2,55.7 L1328.7,53.5 L1369.1,51.6" stroke="#f6be9b"/>
<path d="M881.9,241.4 L907.7,241.4 L909.7,241.2 L910.1,240.8 L910.5,239.9 L912.5,228.5 L913.3,225.6 L914.0,223.9 L914.4,223.5 L914.8,223.5 L925.9,223.0 L931.9,222.4 L932.7,222.0 L933.5,220.7 L934.7,217.3 L937.8,203.6 L938.6,201.1 L939.4,199.8 L950.1,197.9 L956.1,196.4 L957.3,196.0 L957.7,195.7 L958.8,193.1 L962.4,180.7 L963.2,178.7 L964.0,177.4 L964.8,176.8 L974.3,174.7 L979.5,173.2 L982.6,172.0 L983.4,171.1 L984.2,169.5 L987.8,160.7 L988.6,159.3 L989.4,158.5 L999.3,155.1 L1007.2,151.9 L1008.4,150.8 L1012.0,144.9 L1013.9,142.9 L1014.7,142.5 L1025.4,139.5 L1032.6,137.0 L1034.2,135.7 L1037.7,131.4 L1039.3,130.0 L1057.5,122.6 L1059.1,121.5 L1063.1,117.9 L1064.7,116.8 L1077.0,110.8 L1082.9,108.2 L1089.3,104.3 L1107.9,97.4 L1114.2,94.5 L1132.5,88.0 L1139.6,85.1 L1148.3,82.3 L1155.9,80.3 L1168.1,77.4 L1201.8,71.3 L1228.0,65.1 L1239.1,62.9 L1249.0,61.6 L1266.1,59.6 L1298.2,56.6 L1330.7,54.4 L1369.1,52.4" stroke="#f8d4bc"/>
<path d="M881.9,236.6 L911.3,236.5 L913.3,236.3 L914.0,235.4 L914.4,234.2 L916.0,224.8 L917.2,220.0 L918.4,216.9 L919.2,215.6 L920.0,215.0 L932.7,214.4 L940.2,213.5 L941.0,213.4 L941.4,213.1 L942.2,211.9 L943.4,208.6 L946.9,193.6 L948.1,189.9 L948.9,188.3 L949.7,187.7 L954.9,186.9 L960.4,185.8 L965.6,184.6 L970.7,183.1 L971.5,182.3 L972.3,181.0 L977.1,168.9 L978.3,166.7 L979.1,165.9 L990.2,162.6 L1000.5,158.7 L1001.3,158.0 L1002.4,156.2 L1006.4,148.1 L1007.6,146.6 L1008.8,145.7 L1021.9,142.2 L1030.2,139.6 L1032.2,138.1 L1036.5,133.0 L1038.5,131.4 L1059.9,123.2 L1061.9,121.9 L1066.7,117.5 L1068.2,116.4 L1077.8,111.8 L1090.1,106.8 L1095.6,103.7 L1098.0,102.6 L1119.4,95.3 L1126.1,92.5 L1129.3,91.4 L1142.8,86.9 L1155.9,83.0 L1167.7,80.3 L1201.0,74.1 L1209.0,72.2 L1228.4,67.1 L1239.1,64.8 L1249.0,63.3 L1266.1,61.2 L1298.2,57.9 L1330.7,55.4 L1369.1,53.2" stroke="#faebdd"/>
</g>
<g clip-path="url(#c3)" fill="none" stroke-width="3" stroke-linejoin="round" stroke-linecap="butt">
<path d="M311.6,632.2 L317.2,608.6 L323.5,582.9 L327.9,566.5 L331.5,554.3 L337.4,536.2 L342.2,523.3 L346.5,513.3 L348.5,509.5 L350.5,506.3 L354.1,501.3 L364.0,488.8 L375.1,475.4 L382.2,467.9 L392.2,458.6 L396.5,454.9 L400.9,451.6 L414.8,442.7 L419.1,439.7 L432.2,429.4 L436.6,426.1 L441.7,422.9 L450.5,418.0 L462.8,411.9 L475.1,406.9 L489.3,402.0 L515.5,393.8 L528.2,390.3 L546.1,386.2 L558.0,383.9 L574.6,381.4 L587.7,379.9 L607.9,378.3 L683.7,374.2 L725.3,372.9 L799.1,371.3" stroke="#03051a"/>
<path d="M311.6,574.7 L323.5,574.6 L324.7,574.2 L325.9,573.2 L326.7,571.7 L327.9,568.3 L334.2,547.2 L339.8,530.2 L343.8,519.5 L347.7,510.6 L350.5,505.7 L354.1,500.6 L367.6,483.4 L374.3,475.2 L378.3,470.7 L382.6,466.3 L388.6,460.7 L396.9,453.5 L402.9,449.2 L418.3,439.1 L432.2,428.1 L436.6,424.9 L442.1,421.4 L450.9,416.6 L458.8,412.7 L466.7,409.2 L477.4,405.1 L489.7,400.9 L511.2,394.1 L525.0,390.2 L539.7,386.6 L552.0,384.1 L566.7,381.7 L580.2,379.9 L596.0,378.4 L612.3,377.2 L684.5,373.7 L725.3,372.5 L799.1,371.1" stroke="#170f28"/>
<path d="M311.6,639.2 L323.9,586.8 L327.9,571.1 L331.5,558.1 L337.8,537.1 L342.2,523.9 L346.1,513.7 L348.1,509.4 L350.1,505.7 L354.5,499.3 L366.0,484.4 L373.5,475.1 L379.5,468.4 L387.4,460.7 L393.7,455.1 L399.3,450.7 L418.3,438.1 L436.2,423.9 L439.4,421.8 L444.5,418.9 L450.9,415.5 L457.6,412.3 L471.9,406.2 L487.4,400.7 L509.6,393.6 L524.6,389.3 L542.1,385.2 L555.2,382.7 L571.8,380.1 L586.1,378.5 L609.5,376.6 L675.0,373.5 L716.2,372.3 L799.1,370.9" stroke="#2d1738"/>
<path d="M311.6,543.9 L332.3,543.8 L334.2,543.5 L335.4,542.6 L336.2,541.4 L337.4,538.7 L343.0,521.9 L346.1,513.4 L348.9,507.3 L351.7,502.6 L354.5,498.6 L365.6,484.0 L376.3,470.7 L379.1,467.7 L383.0,463.7 L393.3,454.4 L401.3,448.3 L418.3,437.0 L433.4,424.8 L439.8,420.4 L448.5,415.6 L458.0,411.1 L469.5,406.3 L481.4,401.8 L494.9,397.3 L511.9,392.0 L523.1,388.8 L534.6,386.0 L546.1,383.5 L556.4,381.6 L571.0,379.4 L584.5,377.9 L601.2,376.4 L614.7,375.5 L681.7,372.8 L721.8,371.8 L799.1,370.7" stroke="#431c46"/>
<path d="M325.9,641.0 L331.4,571.1 L340.6,571.1 L342.5,561.0 L345.2,534.1 L347.0,519.3 L352.0,505.0 L360.0,490.0 L368.0,475.0 L376.1,460.9 L379.0,456.0 L381.9,452.1 L383.9,446.3 L386.8,436.5 L387.8,434.6 L404.3,433.6 L406.3,430.7 L410.2,428.7 L413.1,413.1 L415.0,403.4 L417.0,400.8 L466.9,401.3 L490.0,395.0 L507.9,384.3 L512.0,382.6 L514.9,376.7 L518.4,374.4 L519.6,372.0 L522.0,371.4 L525.4,369.4 L800.0,369.4" stroke="#5b1e51"/>
<path d="M311.6,644.9 L316.0,644.9 L329.1,583.1 L341.4,529.5 L344.2,518.7 L346.5,510.6 L348.9,504.0 L351.3,499.1 L354.5,493.9 L368.0,474.4 L375.5,464.3 L378.3,461.0 L380.7,458.5 L385.4,454.1 L394.1,446.9 L401.3,441.6 L413.2,433.5 L418.3,429.8 L422.3,426.5 L433.4,416.7 L436.6,414.3 L439.8,412.2 L446.5,408.9 L454.4,405.6 L489.3,392.7 L496.9,390.1 L506.4,387.2 L521.9,382.9 L538.1,379.3 L552.0,376.6 L566.3,374.7 L579.0,373.3 L602.0,371.2 L611.1,370.6 L619.0,370.2 L687.7,369.5 L799.1,369.4" stroke="#731f58"/>
<path d="M311.6,623.3 L316.8,623.3 L318.4,622.9 L319.2,622.3 L319.6,621.7 L320.4,619.8 L321.9,613.5 L330.3,575.5 L339.0,538.7 L342.6,524.5 L345.4,514.7 L347.7,507.6 L349.7,502.8 L352.5,497.7 L365.2,479.4 L372.7,469.1 L377.5,463.1 L381.8,458.6 L389.4,452.0 L396.1,446.6 L402.1,442.2 L417.9,431.3 L421.9,428.1 L434.2,417.4 L438.2,414.6 L442.1,412.3 L447.3,409.8 L453.2,407.3 L481.8,396.5 L494.5,392.0 L508.4,387.7 L523.5,383.6 L540.1,379.8 L553.6,377.4 L567.9,375.4 L580.6,374.0 L601.6,372.1 L611.1,371.4 L619.4,371.1 L657.1,370.4 L690.8,370.0 L799.1,369.6" stroke="#8c1d5b"/>
<path d="M311.6,609.8 L320.0,609.6 L321.2,609.0 L322.3,606.9 L323.9,601.0 L331.1,569.9 L339.4,536.2 L343.0,522.8 L345.7,513.6 L348.1,507.0 L350.5,501.9 L353.7,496.6 L366.0,479.3 L373.5,469.3 L378.3,463.5 L383.0,458.8 L391.0,451.8 L398.1,446.2 L403.3,442.5 L414.4,435.1 L419.1,431.6 L431.4,421.1 L435.4,417.9 L439.4,415.2 L444.9,412.3 L450.1,409.9 L456.0,407.4 L482.2,397.4 L495.3,392.8 L510.8,388.1 L525.0,384.2 L542.5,380.4 L554.8,378.1 L569.9,376.1 L581.8,374.8 L601.2,373.0 L611.1,372.3 L619.4,371.9 L660.7,371.0 L692.8,370.5 L799.1,369.8" stroke="#a6195a"/>
<path d="M311.6,599.0 L320.8,599.0 L321.6,598.1 L324.3,598.1 L324.7,597.4 L325.5,584.6 L325.9,584.0 L328.7,583.9 L329.9,566.6 L332.7,566.5 L333.1,565.6 L333.8,551.8 L334.2,550.2 L337.0,550.0 L337.4,547.1 L338.2,534.2 L341.4,533.5 L342.2,521.7 L342.6,519.3 L345.4,518.9 L345.7,517.7 L346.5,508.0 L346.9,507.4 L349.7,507.1 L350.9,499.5 L353.7,499.2 L354.1,498.9 L354.9,494.2 L355.3,493.5 L358.0,493.2 L358.4,492.4 L359.2,487.9 L362.4,487.3 L363.2,483.0 L363.6,481.9 L366.4,481.4 L366.8,481.0 L367.6,476.7 L368.0,476.2 L370.7,475.7 L371.1,474.7 L371.9,470.9 L375.1,470.1 L375.9,466.4 L376.3,465.7 L379.1,465.1 L379.5,464.6 L380.3,461.5 L383.4,460.8 L384.6,457.5 L387.4,457.0 L387.8,456.8 L388.6,454.2 L389.0,453.8 L391.8,453.3 L392.2,452.7 L393.0,450.5 L396.1,449.7 L396.9,447.7 L397.3,447.2 L400.1,446.5 L400.5,446.3 L401.3,444.3 L404.5,443.5 L405.6,441.4 L408.8,440.6 L409.6,438.9 L410.0,438.6 L412.8,437.9 L413.2,437.6 L414.0,435.9 L417.1,435.0 L418.3,432.8 L421.5,431.6 L422.3,429.7 L425.5,428.3 L426.7,425.8 L429.8,424.5 L430.6,422.6 L431.0,422.2 L433.8,421.0 L434.2,420.7 L435.0,419.1 L438.2,417.8 L439.4,416.2 L442.5,415.2 L443.3,414.1 L446.5,413.1 L447.7,411.9 L450.9,411.0 L452.1,410.0 L455.2,409.1 L456.0,408.4 L459.2,407.5 L460.4,406.6 L463.6,405.8 L464.7,404.9 L467.5,404.2 L468.7,403.4 L471.9,402.5 L473.1,401.7 L476.2,400.8 L477.0,400.2 L480.2,399.3 L481.4,398.6 L484.6,397.7 L485.8,397.1 L488.5,396.3 L489.7,395.7 L492.9,394.8 L494.1,394.2 L515.1,387.9 L527.8,384.6 L544.5,380.9 L557.2,378.7 L573.8,376.5 L586.5,375.2 L608.3,373.4 L617.9,372.9 L637.3,372.3 L697.6,370.9 L799.1,370.1" stroke="#bf1654"/>
<path d="M311.6,588.2 L323.5,588.2 L323.9,587.9 L324.7,582.2 L328.7,582.0 L329.1,581.5 L330.3,561.5 L330.7,559.7 L334.6,559.5 L335.0,557.4 L336.2,538.5 L336.6,538.2 L340.2,537.8 L340.6,537.6 L341.8,520.7 L342.2,518.7 L346.1,518.2 L346.5,517.0 L347.7,504.7 L348.1,504.4 L352.1,503.9 L353.3,496.7 L353.7,495.6 L357.6,495.2 L358.0,494.8 L359.2,488.2 L359.6,487.8 L363.6,487.2 L364.0,486.1 L364.8,481.3 L365.2,480.0 L369.2,479.4 L369.5,479.1 L370.7,473.1 L371.1,472.6 L375.1,471.8 L375.5,471.1 L376.3,467.1 L376.7,465.9 L381.1,464.9 L382.2,460.7 L382.6,460.2 L386.6,459.4 L387.0,459.0 L388.2,455.2 L392.6,454.2 L393.7,450.9 L394.1,450.4 L398.1,449.5 L398.5,449.2 L399.7,446.3 L404.1,445.2 L405.6,442.3 L410.0,441.2 L411.2,438.8 L415.6,437.5 L416.0,437.1 L417.1,434.6 L421.5,433.1 L422.7,430.4 L423.1,430.0 L427.1,428.4 L427.5,428.0 L428.7,425.2 L433.0,423.3 L434.2,420.9 L434.6,420.5 L438.6,419.1 L439.0,418.8 L440.2,417.0 L444.5,415.6 L446.1,413.9 L450.5,412.6 L451.7,411.3 L456.0,410.1 L457.6,408.8 L462.0,407.5 L463.2,406.5 L467.5,405.3 L469.1,404.2 L473.5,403.0 L474.7,402.1 L479.0,400.8 L480.6,399.9 L485.0,398.7 L486.6,397.8 L490.9,396.6 L492.1,395.9 L496.5,394.8 L498.1,394.0 L502.4,392.9 L503.6,392.3 L508.0,391.2 L509.6,390.5 L513.9,389.4 L515.5,388.8 L527.0,385.8 L544.5,381.9 L556.0,379.8 L573.0,377.5 L590.5,375.7 L610.3,374.1 L654.0,372.5 L702.3,371.3 L799.1,370.3" stroke="#d5224a"/>
<path d="M311.6,580.1 L320.4,580.1 L327.1,579.9 L327.5,578.6 L328.7,561.5 L329.1,560.8 L334.2,560.6 L334.6,559.7 L336.2,535.6 L336.6,533.9 L342.2,533.2 L342.6,530.3 L343.8,513.9 L344.2,511.5 L349.7,510.7 L350.1,509.7 L351.3,500.2 L351.7,498.4 L352.1,498.0 L357.3,497.5 L357.6,497.3 L358.0,495.8 L359.2,488.8 L359.6,487.9 L365.2,487.1 L365.6,486.1 L366.8,479.4 L367.2,478.1 L372.7,477.0 L373.1,476.6 L374.3,470.7 L374.7,469.2 L375.1,468.7 L380.7,467.5 L381.1,466.6 L382.2,461.9 L382.6,461.2 L388.2,460.0 L388.6,459.5 L390.2,454.6 L396.1,453.0 L397.7,448.8 L398.1,448.4 L403.7,447.2 L404.1,446.7 L405.2,444.0 L405.6,443.4 L411.2,442.1 L411.6,441.9 L412.0,441.2 L413.2,438.6 L419.1,436.8 L419.5,436.2 L420.7,433.3 L421.1,432.8 L426.7,430.7 L427.1,430.2 L428.7,426.6 L434.6,424.0 L435.8,421.6 L436.6,420.7 L442.1,418.8 L444.1,416.4 L449.7,414.7 L450.1,414.5 L451.7,412.7 L457.6,410.9 L459.6,409.2 L465.1,407.7 L467.1,406.2 L472.7,404.6 L474.7,403.3 L480.6,401.6 L482.6,400.4 L488.1,398.9 L490.1,397.9 L496.1,396.3 L497.7,395.5 L503.6,393.9 L505.6,393.0 L511.2,391.6 L513.1,390.8 L519.1,389.3 L521.1,388.6 L536.5,384.8 L551.6,381.8 L567.1,379.4 L576.6,378.2 L597.6,376.1 L613.1,375.0 L671.4,372.8 L711.5,371.7 L799.1,370.6" stroke="#e53940"/>
<path d="M311.6,572.0 L322.3,572.0 L322.7,571.9 L323.1,571.6 L323.5,570.7 L323.9,570.3 L331.1,570.2 L331.5,568.7 L331.9,564.2 L333.5,540.1 L333.8,538.8 L341.0,538.2 L341.4,536.4 L341.8,532.0 L343.0,515.7 L343.4,512.5 L343.8,511.2 L350.9,510.4 L351.3,509.6 L352.9,498.7 L353.3,496.8 L353.7,495.9 L360.8,495.1 L361.2,494.8 L361.6,493.3 L362.8,486.2 L363.6,483.2 L370.3,482.1 L371.1,481.7 L371.5,480.5 L373.1,472.4 L373.5,471.4 L381.1,469.7 L381.4,468.8 L382.6,464.0 L383.4,461.7 L383.8,461.4 L391.0,459.8 L391.4,459.2 L393.3,453.2 L393.7,452.9 L400.9,451.3 L401.7,450.1 L402.9,447.0 L403.7,446.0 L410.8,444.4 L411.6,443.5 L412.8,440.8 L413.6,439.7 L418.7,438.3 L421.1,437.4 L423.1,432.8 L423.5,432.3 L431.0,429.2 L433.0,425.0 L433.4,424.5 L440.9,421.7 L443.3,418.5 L450.9,416.1 L453.2,413.6 L460.8,411.3 L463.6,409.0 L470.7,407.0 L473.5,405.1 L481.0,403.1 L483.4,401.6 L490.9,399.6 L493.3,398.4 L500.8,396.4 L503.2,395.3 L510.8,393.3 L513.1,392.3 L520.7,390.4 L523.5,389.4 L543.3,384.8 L553.2,382.9 L572.6,379.9 L582.6,378.7 L598.4,377.3 L613.5,376.3 L682.9,373.2 L723.4,372.1 L799.1,370.9" stroke="#ef5640"/>
<path d="M311.6,566.6 L325.1,566.5 L325.5,565.6 L326.7,555.4 L327.1,555.1 L335.8,554.7 L336.2,554.3 L337.0,547.2 L338.6,524.6 L339.4,519.1 L339.8,518.8 L347.7,518.1 L348.5,518.0 L348.9,517.7 L349.3,515.8 L350.9,503.1 L351.7,499.0 L352.1,498.0 L359.6,497.2 L361.6,496.8 L362.4,494.0 L364.0,484.9 L364.8,482.4 L371.5,481.2 L374.3,480.5 L375.1,478.1 L376.7,470.4 L377.5,468.4 L383.8,467.1 L387.0,466.3 L387.8,464.4 L389.4,458.5 L390.2,456.8 L399.7,454.5 L400.5,453.1 L402.1,448.9 L402.9,447.8 L412.4,445.6 L413.2,444.5 L414.8,441.0 L415.6,439.8 L421.1,438.1 L425.1,436.6 L425.9,435.3 L427.5,431.3 L428.3,430.1 L437.8,426.3 L440.2,422.5 L440.9,421.7 L450.5,418.5 L451.3,417.7 L452.8,415.7 L453.6,415.0 L463.2,412.0 L465.5,409.9 L466.3,409.4 L475.9,406.7 L479.0,404.7 L488.5,402.2 L491.7,400.5 L501.2,398.0 L504.4,396.6 L513.9,394.0 L517.1,392.8 L526.6,390.5 L529.8,389.4 L539.3,387.4 L542.5,386.5 L555.2,384.0 L567.9,382.0 L580.6,380.3 L594.1,379.0 L611.1,377.8 L686.1,373.9 L727.3,372.7 L799.1,371.2" stroke="#f3734e"/>
<path d="M311.6,559.0 L327.1,559.0 L327.9,558.9 L328.3,557.8 L329.5,543.9 L330.3,538.4 L330.7,538.1 L336.2,537.9 L341.4,537.4 L341.8,537.4 L342.2,536.9 L343.0,531.4 L345.0,510.8 L345.7,506.4 L346.1,505.4 L355.3,504.6 L357.6,504.3 L358.0,504.0 L358.8,501.4 L361.2,488.3 L362.0,486.2 L370.3,484.9 L373.5,484.3 L373.9,484.0 L374.7,481.7 L376.7,472.2 L377.5,469.7 L377.9,469.1 L385.8,467.5 L389.4,466.6 L389.8,466.3 L390.6,464.5 L392.6,457.4 L393.3,455.6 L393.7,455.2 L405.2,452.6 L406.0,451.9 L408.4,446.7 L409.2,445.5 L409.6,445.1 L416.8,443.4 L421.5,441.8 L422.3,440.6 L424.7,434.9 L425.5,433.9 L437.0,429.5 L437.8,428.7 L440.2,424.5 L441.3,423.3 L452.8,419.4 L453.6,418.9 L456.0,415.9 L456.8,415.2 L468.7,411.4 L469.9,410.7 L471.9,409.0 L473.1,408.3 L484.6,405.3 L488.5,403.2 L500.4,400.1 L504.8,398.1 L516.3,395.1 L520.7,393.4 L532.2,390.7 L536.1,389.5 L554.4,385.7 L568.3,383.4 L583.3,381.4 L609.1,379.3 L690.4,374.6 L731.7,373.2 L799.1,371.6" stroke="#f58d64"/>
<path d="M311.6,550.9 L329.9,550.9 L331.1,550.7 L331.5,549.8 L331.9,546.7 L333.5,528.6 L334.2,524.2 L334.6,523.5 L343.4,523.1 L348.5,522.5 L348.9,522.3 L349.7,519.0 L352.1,502.7 L352.9,498.8 L353.7,496.2 L354.1,495.8 L362.0,495.0 L368.4,493.9 L368.8,493.3 L369.5,490.6 L371.9,478.6 L373.1,474.8 L373.5,474.4 L381.1,473.1 L387.8,471.4 L388.2,471.0 L389.0,469.0 L391.8,458.9 L392.6,457.3 L393.0,456.9 L400.5,455.4 L407.2,453.7 L407.6,453.4 L408.4,452.3 L411.2,446.4 L412.4,444.9 L420.7,442.5 L425.5,440.9 L427.1,440.1 L428.3,438.2 L430.6,432.7 L431.8,431.0 L446.5,425.7 L447.7,424.4 L450.1,420.8 L451.3,419.6 L465.9,414.6 L467.1,413.7 L469.5,411.5 L470.7,410.8 L485.4,406.9 L490.1,404.4 L504.8,400.6 L510.0,398.3 L524.2,394.6 L529.4,392.8 L550.8,388.0 L568.3,384.9 L581.4,383.1 L590.5,382.1 L605.6,381.0 L691.6,375.4 L732.9,373.8 L799.1,371.9" stroke="#f6a67e"/>
<path d="M311.6,546.3 L333.1,546.3 L334.2,546.2 L334.6,545.7 L335.0,544.1 L337.4,520.8 L338.2,516.0 L339.0,513.5 L339.4,513.2 L346.1,512.9 L352.5,512.4 L356.5,511.8 L356.9,511.4 L358.0,507.4 L361.2,490.6 L362.4,486.7 L362.8,486.1 L363.2,486.0 L371.9,484.9 L380.3,483.1 L381.1,481.7 L381.8,479.2 L385.0,466.0 L385.8,463.9 L386.6,463.0 L395.7,461.1 L404.1,458.7 L405.2,457.0 L408.0,450.7 L409.6,448.1 L410.4,447.6 L416.0,446.3 L421.1,444.8 L425.9,443.1 L427.9,442.3 L429.0,440.5 L432.2,433.5 L433.0,432.3 L433.8,431.6 L442.9,428.5 L451.3,425.3 L452.4,424.2 L456.0,419.2 L457.2,418.2 L475.1,412.5 L479.4,409.7 L481.0,408.9 L498.5,404.6 L504.4,401.8 L522.3,397.0 L528.6,394.8 L552.0,389.3 L574.6,385.4 L582.6,384.4 L598.8,382.9 L627.8,381.0 L673.0,377.5 L694.0,376.1 L734.9,374.4 L799.1,372.3" stroke="#f6be9b"/>
<path d="M311.6,535.0 L337.0,535.0 L338.6,534.7 L339.0,534.3 L339.4,533.0 L341.4,518.8 L342.6,511.8 L343.4,508.4 L344.2,506.3 L344.6,505.8 L345.0,505.7 L351.3,505.5 L356.9,505.1 L363.2,504.2 L365.2,503.9 L365.6,503.6 L366.4,502.0 L367.2,499.3 L371.1,480.6 L371.9,478.2 L372.7,476.7 L373.1,476.4 L378.7,475.7 L384.2,474.6 L389.4,473.2 L393.7,471.8 L394.5,470.8 L395.3,468.8 L397.7,460.8 L398.9,457.5 L400.1,455.2 L400.9,454.3 L401.7,454.0 L407.6,452.9 L413.6,451.7 L422.3,449.1 L423.1,448.4 L423.9,447.1 L427.5,439.1 L428.7,437.0 L429.4,436.2 L441.7,432.0 L450.5,428.5 L452.1,427.0 L456.0,421.1 L457.2,419.9 L458.0,419.4 L468.3,416.1 L479.0,413.0 L480.6,412.2 L484.2,410.0 L486.2,409.1 L496.9,406.5 L507.2,403.7 L514.7,400.4 L536.1,395.0 L542.9,393.0 L570.7,387.6 L582.9,385.8 L596.4,384.6 L623.4,382.8 L674.6,378.4 L695.2,376.9 L736.1,375.0 L799.1,372.7" stroke="#f8d4bc"/>
<path d="M311.6,528.5 L341.4,528.4 L343.0,528.1 L343.8,527.0 L344.2,525.8 L348.1,505.8 L349.3,501.3 L350.1,499.5 L350.5,499.0 L350.9,498.9 L358.8,498.5 L366.4,497.6 L372.7,496.5 L375.1,495.9 L375.5,495.7 L376.3,494.3 L377.5,490.7 L382.2,470.4 L383.4,467.4 L384.2,466.4 L391.0,465.2 L396.5,464.0 L404.1,462.1 L409.2,460.5 L410.4,459.1 L411.6,457.0 L416.4,447.2 L417.1,446.1 L417.9,445.5 L424.3,443.7 L429.8,441.9 L435.8,439.7 L442.5,436.9 L443.3,436.3 L444.5,434.9 L448.9,427.4 L450.1,425.7 L451.3,424.6 L466.7,419.1 L476.6,415.9 L482.6,412.3 L485.0,411.2 L497.3,408.3 L510.0,404.8 L516.7,401.7 L519.1,400.9 L544.1,394.8 L550.8,393.0 L569.9,389.4 L584.1,387.2 L594.5,386.2 L626.2,384.0 L675.4,379.4 L696.4,377.7 L736.9,375.6 L799.1,373.1" stroke="#faebdd"/>
</g>
<g clip-path="url(#c4)" fill="none" stroke-width="3" stroke-linejoin="round" stroke-linecap="butt">
<path d="M881.9,636.0 L893.0,570.8 L898.6,543.8 L902.2,528.5 L905.3,517.1 L908.1,509.5 L910.9,504.1 L912.9,501.1 L914.8,498.6 L938.6,470.6 L946.9,461.6 L956.1,452.9 L959.6,450.1 L964.8,446.5 L987.0,432.4 L998.9,424.2 L1008.8,418.1 L1016.7,413.6 L1027.4,408.3 L1039.3,403.5 L1054.0,398.6 L1073.0,393.1 L1086.5,389.7 L1103.5,386.2 L1118.2,383.8 L1136.4,381.3 L1173.3,377.2 L1184.4,376.4 L1199.5,375.6 L1232.8,374.4 L1316.4,371.9 L1369.1,370.7" stroke="#03051a"/>
<path d="M881.9,559.3 L893.0,559.2 L894.2,559.0 L895.0,558.3 L895.8,556.8 L896.6,554.1 L901.4,532.6 L904.5,520.0 L907.3,511.2 L908.9,507.3 L910.1,505.0 L912.1,501.7 L914.0,498.9 L929.9,479.4 L940.2,467.2 L947.7,459.1 L955.3,451.8 L961.2,447.1 L968.8,442.1 L987.8,430.3 L998.9,422.8 L1009.6,416.5 L1018.7,411.5 L1026.6,407.6 L1034.6,404.3 L1048.0,399.6 L1065.5,394.2 L1079.7,390.3 L1092.8,387.3 L1108.7,384.3 L1124.5,381.9 L1139.6,380.0 L1165.4,377.2 L1176.1,376.3 L1186.4,375.6 L1216.9,374.3 L1323.5,371.4 L1369.1,370.5" stroke="#170f28"/>
<path d="M881.9,644.9 L882.3,644.4 L893.4,573.7 L898.6,546.7 L902.2,530.0 L904.9,518.8 L907.7,510.0 L908.9,507.0 L910.5,503.8 L912.5,500.5 L914.4,497.7 L928.7,479.5 L934.7,472.2 L945.8,459.5 L955.7,449.7 L960.4,445.9 L966.8,441.7 L986.6,429.5 L998.5,421.7 L1008.8,415.7 L1021.5,409.0 L1027.0,406.5 L1033.0,404.0 L1047.6,398.7 L1067.9,392.5 L1082.5,388.5 L1096.8,385.5 L1112.6,382.6 L1130.9,380.1 L1143.2,378.7 L1170.9,376.0 L1181.2,375.2 L1197.1,374.4 L1231.6,373.4 L1312.8,371.4 L1369.1,370.4" stroke="#2d1738"/>
<path d="M881.9,526.6 L899.8,526.6 L901.4,526.3 L902.2,525.8 L902.9,524.6 L903.7,522.6 L906.9,512.1 L908.9,506.7 L910.9,502.6 L913.7,498.2 L929.5,477.2 L939.4,465.1 L948.5,455.0 L954.5,449.1 L958.4,445.7 L966.8,440.0 L986.2,428.2 L998.1,420.6 L1013.1,412.2 L1021.5,408.0 L1029.4,404.5 L1039.3,400.7 L1050.8,396.8 L1067.9,391.5 L1079.3,388.3 L1088.9,386.1 L1102.3,383.4 L1115.4,381.2 L1132.5,378.9 L1143.2,377.8 L1168.1,375.5 L1189.5,374.1 L1217.7,373.2 L1322.3,371.0 L1369.1,370.3" stroke="#431c46"/>
<path d="M891.0,642.2 L899.4,570.9 L902.1,570.9 L909.7,531.5 L921.5,490.9 L933.4,463.9 L946.9,444.2 L950.9,434.5 L958.4,430.7 L964.3,424.8 L968.3,400.5 L1024.5,400.5 L1044.3,391.0 L1060.2,385.6 L1067.3,382.6 L1070.5,374.8 L1073.2,371.3 L1076.0,369.4 L1400.8,369.4" stroke="#5b1e51"/>
<path d="M881.9,644.9 L887.1,644.9 L887.9,639.5 L893.8,589.7 L900.2,547.4 L902.9,530.9 L905.3,518.5 L907.7,508.4 L909.7,502.2 L911.3,498.5 L913.3,494.7 L918.8,486.0 L926.7,472.7 L931.9,465.0 L937.8,457.0 L946.2,446.8 L955.3,436.7 L957.7,434.5 L960.0,432.7 L967.2,428.2 L989.0,416.3 L999.7,410.9 L1016.7,403.1 L1032.6,396.8 L1050.0,390.8 L1071.8,383.8 L1080.1,381.3 L1086.1,379.8 L1092.8,378.4 L1109.5,375.5 L1128.1,373.2 L1141.6,371.8 L1165.0,370.6 L1186.8,369.9 L1200.6,369.7 L1239.1,369.6 L1369.1,369.4" stroke="#731f58"/>
<path d="M881.9,617.9 L888.7,617.8 L889.5,617.1 L889.9,616.0 L890.7,611.6 L894.6,581.5 L899.8,548.6 L903.3,528.1 L905.7,516.6 L908.1,507.3 L910.1,501.7 L912.9,496.1 L918.8,486.9 L927.1,473.5 L933.1,464.9 L938.6,457.7 L944.6,450.4 L955.3,438.7 L959.6,435.0 L966.0,430.8 L988.2,418.5 L998.1,413.2 L1015.1,405.1 L1030.6,398.6 L1046.8,392.9 L1074.6,384.1 L1085.3,381.1 L1097.6,378.6 L1111.1,376.4 L1127.7,374.3 L1140.4,373.0 L1153.9,372.1 L1175.3,371.0 L1193.9,370.5 L1260.1,370.0 L1369.1,369.5" stroke="#8c1d5b"/>
<path d="M881.9,599.0 L890.3,598.9 L891.1,598.6 L891.5,597.9 L892.2,594.9 L897.4,561.7 L901.8,536.0 L904.9,520.0 L907.7,508.9 L909.7,503.1 L912.5,497.4 L927.9,473.7 L935.1,463.9 L944.2,452.7 L953.3,442.7 L956.1,439.9 L958.4,437.9 L962.4,435.1 L966.8,432.3 L992.9,417.5 L1000.5,413.5 L1012.8,407.4 L1025.8,401.6 L1039.3,396.5 L1055.6,391.1 L1071.4,386.1 L1080.1,383.6 L1090.4,381.2 L1104.3,378.6 L1116.2,376.8 L1134.1,374.6 L1144.8,373.7 L1167.4,372.2 L1180.8,371.6 L1196.3,371.1 L1263.7,370.4 L1369.1,369.7" stroke="#a6195a"/>
<path d="M881.9,585.5 L893.0,585.4 L893.8,570.5 L894.2,570.1 L897.4,570.0 L897.8,563.9 L898.6,542.7 L902.2,542.4 L902.9,524.1 L903.3,519.2 L906.5,518.9 L906.9,518.7 L907.7,505.6 L908.1,503.5 L911.3,503.2 L911.7,502.9 L912.5,495.8 L912.9,494.9 L916.0,494.7 L916.4,494.3 L917.2,488.9 L917.6,488.3 L920.8,488.1 L921.2,487.4 L922.0,481.6 L922.4,481.2 L925.5,480.8 L925.9,479.9 L926.7,474.5 L930.3,473.9 L930.7,472.7 L931.5,468.1 L935.1,467.5 L936.2,462.1 L939.8,461.5 L940.6,457.5 L941.0,456.5 L944.6,455.7 L945.4,451.9 L945.8,451.1 L948.9,450.5 L949.3,450.3 L950.1,446.6 L950.5,446.2 L953.7,445.5 L954.1,445.1 L954.9,441.8 L955.3,441.5 L958.4,440.9 L958.8,440.4 L959.6,438.1 L963.2,437.3 L963.6,436.9 L964.4,434.9 L968.0,434.3 L969.1,432.2 L972.7,431.5 L973.9,429.5 L977.5,428.8 L978.3,427.2 L978.7,426.8 L982.2,426.0 L983.0,424.4 L983.4,424.1 L987.0,423.2 L987.8,421.6 L991.3,420.6 L991.7,420.3 L992.5,418.8 L996.1,417.8 L996.5,417.5 L997.3,416.1 L1000.9,415.2 L1002.1,413.6 L1005.6,412.7 L1006.8,411.2 L1010.4,410.3 L1011.6,408.9 L1015.1,407.9 L1015.9,406.9 L1016.3,406.7 L1019.9,405.6 L1020.7,404.7 L1021.1,404.5 L1024.2,403.7 L1024.6,403.5 L1025.4,402.7 L1029.0,401.7 L1030.2,400.7 L1033.8,399.8 L1035.0,399.0 L1038.5,398.0 L1039.7,397.3 L1043.3,396.4 L1044.5,395.6 L1048.0,394.8 L1049.2,394.1 L1052.8,393.2 L1054.0,392.6 L1057.5,391.7 L1058.3,391.2 L1061.9,390.3 L1063.1,389.7 L1066.7,388.8 L1067.9,388.3 L1082.1,384.2 L1091.6,382.1 L1105.5,379.5 L1119.8,377.4 L1138.4,375.2 L1171.3,372.8 L1197.9,371.8 L1302.9,370.4 L1369.1,369.8" stroke="#bf1654"/>
<path d="M881.9,572.0 L890.7,572.0 L891.5,571.7 L895.8,571.7 L896.2,571.6 L896.6,567.6 L897.4,545.2 L897.8,543.2 L902.2,543.0 L902.6,542.7 L903.7,516.3 L904.1,513.5 L908.9,513.2 L909.3,510.3 L910.1,500.1 L910.5,498.1 L915.2,497.7 L915.6,497.0 L916.8,489.3 L917.2,489.0 L921.6,488.7 L922.0,488.4 L923.2,480.4 L923.6,479.7 L928.3,479.1 L928.7,477.6 L929.5,472.1 L929.9,471.0 L934.7,470.3 L935.1,469.5 L936.2,463.1 L941.0,462.3 L941.4,461.8 L942.6,455.8 L943.0,455.5 L947.7,454.5 L948.9,449.3 L949.3,448.7 L954.1,447.7 L954.5,446.8 L955.3,443.4 L955.7,442.6 L960.4,441.7 L960.8,441.3 L962.0,438.1 L967.2,437.0 L968.4,434.3 L968.8,434.1 L973.5,433.2 L974.7,430.9 L975.1,430.5 L979.9,429.5 L980.2,429.1 L981.4,426.8 L986.2,425.6 L986.6,425.4 L987.8,423.1 L992.9,421.6 L994.1,419.4 L994.5,419.1 L999.3,417.8 L1000.9,415.5 L1005.6,414.2 L1006.0,414.0 L1007.2,412.2 L1012.4,410.7 L1013.5,409.1 L1018.7,407.5 L1019.9,406.1 L1020.3,405.9 L1025.0,404.6 L1026.6,403.2 L1031.4,401.9 L1033.0,400.7 L1038.1,399.3 L1039.3,398.4 L1044.5,397.1 L1046.1,396.1 L1050.8,395.0 L1052.4,394.1 L1057.2,392.9 L1058.7,392.1 L1063.9,390.8 L1065.1,390.2 L1070.2,388.9 L1071.8,388.1 L1084.5,384.8 L1097.6,382.1 L1110.7,379.8 L1123.4,378.0 L1138.8,376.2 L1172.1,373.6 L1198.3,372.5 L1308.1,370.7 L1369.1,370.0" stroke="#d5224a"/>
<path d="M881.9,563.9 L892.6,563.8 L893.0,562.7 L893.4,558.8 L893.8,558.3 L899.8,558.1 L900.2,557.5 L901.8,520.8 L902.2,517.6 L908.5,517.1 L908.9,515.6 L909.7,504.6 L910.5,497.9 L910.9,497.4 L917.2,497.0 L917.6,495.9 L918.8,487.7 L919.2,486.0 L919.6,485.9 L925.5,485.3 L925.9,485.1 L927.5,475.4 L927.9,474.5 L934.3,473.6 L934.7,473.1 L936.2,464.5 L936.6,464.1 L943.0,463.0 L943.4,462.1 L944.6,455.8 L945.0,454.7 L951.7,453.2 L953.3,446.8 L953.7,446.2 L960.0,444.9 L960.4,444.6 L962.0,440.2 L962.4,440.0 L968.8,438.8 L969.1,438.4 L970.3,435.5 L970.7,434.9 L977.5,433.5 L979.1,430.2 L979.5,429.8 L985.8,428.4 L986.2,428.1 L987.8,424.9 L994.5,422.9 L994.9,422.5 L996.5,419.5 L1003.2,417.6 L1004.8,415.1 L1005.2,414.8 L1011.6,412.9 L1012.0,412.7 L1013.5,410.5 L1020.3,408.4 L1022.3,406.3 L1029.0,404.4 L1031.0,402.7 L1037.3,401.0 L1039.3,399.6 L1046.1,397.9 L1048.0,396.7 L1054.8,395.0 L1056.8,394.0 L1063.1,392.4 L1065.1,391.5 L1071.8,389.8 L1073.8,388.9 L1080.5,387.4 L1082.5,386.6 L1088.9,385.4 L1091.2,384.7 L1108.3,381.6 L1125.3,379.1 L1142.4,377.2 L1173.7,374.5 L1199.5,373.3 L1312.4,371.0 L1369.1,370.2" stroke="#e53940"/>
<path d="M881.9,555.8 L895.0,555.6 L895.4,552.7 L896.2,538.2 L896.6,537.0 L902.6,536.8 L904.5,536.6 L904.9,536.3 L905.3,532.2 L906.5,509.3 L907.3,502.2 L907.7,501.6 L916.0,501.1 L916.4,500.0 L918.4,487.7 L918.8,487.1 L927.1,486.4 L927.5,485.5 L927.9,483.6 L929.5,474.0 L929.9,473.2 L938.2,472.1 L938.6,471.5 L939.0,469.9 L940.2,463.0 L940.6,461.4 L941.0,460.6 L949.3,459.1 L949.7,458.7 L950.1,457.4 L951.3,451.8 L952.1,449.7 L959.6,448.2 L960.8,447.8 L962.4,443.3 L963.2,441.8 L971.9,440.0 L974.3,435.2 L983.0,433.1 L983.4,432.6 L985.4,428.5 L994.1,425.9 L994.5,425.5 L996.5,421.5 L1005.2,418.8 L1006.0,417.9 L1007.2,415.7 L1008.0,415.0 L1016.3,412.4 L1017.1,411.7 L1018.3,409.9 L1019.1,409.3 L1027.4,406.8 L1030.2,404.4 L1038.5,402.2 L1041.3,400.4 L1050.0,398.2 L1052.4,396.8 L1061.1,394.7 L1063.5,393.5 L1072.2,391.4 L1074.6,390.3 L1083.3,388.4 L1085.7,387.6 L1094.4,385.9 L1097.2,385.2 L1108.3,383.2 L1130.1,380.0 L1142.0,378.7 L1174.9,375.6 L1199.9,374.3 L1233.2,373.3 L1314.8,371.4 L1369.1,370.4" stroke="#ef5640"/>
<path d="M881.9,550.4 L897.4,550.3 L897.8,549.7 L899.0,525.7 L899.4,520.3 L899.8,517.9 L906.1,517.6 L910.5,517.1 L910.9,515.7 L912.5,500.1 L913.7,493.8 L914.0,493.3 L920.0,493.0 L924.8,492.5 L925.1,491.7 L925.5,490.0 L927.1,480.0 L927.9,476.8 L928.3,476.4 L934.7,475.7 L939.0,474.9 L939.8,472.3 L941.4,463.5 L942.2,461.1 L950.5,459.6 L952.9,459.1 L953.3,458.8 L954.1,456.5 L955.7,450.1 L956.5,448.7 L967.2,446.7 L967.6,446.4 L968.0,445.8 L969.5,441.5 L970.3,440.0 L970.7,439.7 L981.4,437.4 L982.2,436.4 L983.8,432.6 L984.6,431.2 L991.3,429.3 L995.7,427.8 L996.5,426.6 L998.1,423.0 L998.9,422.0 L1009.6,418.6 L1010.4,418.0 L1012.4,414.7 L1013.1,413.9 L1023.9,410.5 L1024.6,409.9 L1027.0,407.3 L1038.1,404.2 L1041.3,401.9 L1052.4,399.1 L1055.6,397.4 L1066.7,394.7 L1069.8,393.3 L1080.9,390.8 L1084.1,389.7 L1094.8,387.6 L1098.0,386.8 L1112.3,384.3 L1126.5,382.2 L1140.8,380.4 L1169.7,377.3 L1178.8,376.5 L1191.1,375.8 L1222.1,374.5 L1325.1,371.5 L1369.1,370.6" stroke="#f3734e"/>
<path d="M881.9,543.3 L900.6,543.2 L901.0,541.8 L902.6,512.9 L902.9,508.9 L903.3,506.6 L903.7,505.6 L911.7,505.3 L917.2,504.8 L918.0,502.2 L920.4,488.3 L921.2,485.4 L921.6,485.1 L929.9,484.4 L934.7,483.7 L935.1,483.5 L935.9,481.1 L938.2,468.2 L939.0,466.0 L946.6,464.8 L952.5,463.6 L952.9,463.2 L953.7,461.0 L955.7,453.1 L956.5,451.3 L956.9,450.9 L964.0,449.7 L970.3,448.4 L971.1,447.3 L973.5,441.2 L974.3,439.9 L983.0,437.9 L988.2,436.3 L989.0,435.2 L991.3,429.3 L992.1,428.2 L1005.6,423.8 L1006.4,423.1 L1008.8,418.6 L1010.0,417.3 L1023.5,412.9 L1024.2,412.2 L1026.6,409.3 L1027.4,408.6 L1041.3,404.8 L1044.1,402.8 L1045.3,402.2 L1058.7,398.9 L1062.7,397.0 L1076.6,393.8 L1080.5,392.3 L1094.4,389.6 L1098.4,388.5 L1116.2,385.4 L1133.3,383.0 L1173.3,378.2 L1195.5,376.7 L1226.8,375.3 L1326.7,371.9 L1369.1,370.8" stroke="#f58d64"/>
<path d="M881.9,537.4 L902.9,537.4 L903.7,537.3 L904.1,536.9 L904.5,534.7 L906.1,510.1 L906.9,503.6 L907.3,501.6 L908.1,499.4 L908.5,499.2 L915.2,499.0 L921.6,498.6 L924.8,498.3 L925.1,498.0 L925.5,497.1 L926.3,494.0 L928.7,480.7 L929.5,477.7 L929.9,476.9 L930.3,476.7 L939.4,475.7 L946.6,474.3 L946.9,473.9 L947.7,471.6 L950.5,459.4 L951.3,457.4 L951.7,456.9 L960.8,455.4 L968.4,453.8 L968.8,453.5 L969.5,452.1 L972.3,444.5 L973.1,443.1 L973.5,442.7 L982.2,440.8 L990.2,438.5 L990.6,438.2 L991.3,436.9 L994.1,429.7 L994.9,428.3 L995.3,428.0 L1003.6,425.4 L1012.0,422.3 L1013.1,421.0 L1015.9,416.2 L1017.1,415.0 L1033.8,409.9 L1035.0,409.1 L1037.7,406.5 L1038.9,405.9 L1055.6,401.8 L1059.5,399.7 L1060.7,399.2 L1077.4,395.5 L1082.5,393.8 L1099.2,390.6 L1103.9,389.3 L1126.1,385.7 L1173.7,379.5 L1195.9,377.8 L1228.0,376.2 L1327.5,372.3 L1369.1,371.1" stroke="#f6a67e"/>
<path d="M881.9,531.5 L906.9,531.3 L907.7,531.1 L908.1,530.3 L908.5,528.1 L910.5,506.2 L911.7,499.4 L912.9,495.2 L913.3,494.5 L913.7,494.2 L925.9,493.7 L933.5,492.8 L933.9,492.5 L934.7,490.7 L935.5,487.5 L938.2,472.9 L939.0,470.0 L939.8,468.6 L950.5,467.1 L960.0,465.0 L960.4,464.6 L961.2,463.0 L964.4,453.0 L965.2,451.0 L966.0,449.8 L966.4,449.5 L972.3,448.5 L977.9,447.3 L986.6,444.8 L987.4,443.9 L988.2,442.3 L991.3,433.7 L992.5,431.7 L1003.2,428.2 L1012.8,424.5 L1013.5,423.9 L1014.3,422.8 L1017.5,417.2 L1018.3,416.2 L1019.1,415.6 L1039.3,409.6 L1040.5,408.9 L1043.7,406.3 L1045.3,405.4 L1065.9,400.6 L1071.8,398.1 L1092.4,394.0 L1098.4,392.3 L1124.5,387.7 L1145.5,384.9 L1166.6,381.8 L1176.9,380.5 L1201.8,378.6 L1231.6,377.0 L1328.3,372.7 L1369.1,371.3" stroke="#f6be9b"/>
<path d="M881.9,517.7 L912.5,517.5 L912.9,517.2 L913.3,516.4 L913.7,514.8 L915.2,504.7 L917.2,495.3 L918.4,491.1 L919.2,489.6 L919.6,489.4 L927.1,489.1 L934.3,488.4 L941.4,487.2 L943.4,486.8 L943.8,486.5 L944.6,484.8 L945.4,482.0 L947.7,470.9 L948.9,466.3 L950.1,463.1 L950.9,462.0 L963.6,460.1 L969.5,458.8 L975.1,457.2 L975.9,456.5 L976.7,455.2 L981.0,443.6 L981.8,442.1 L982.6,441.1 L992.9,437.8 L1006.8,432.0 L1007.6,431.4 L1008.4,430.2 L1012.4,422.0 L1013.5,420.3 L1014.3,419.7 L1038.9,411.8 L1040.1,411.1 L1044.1,407.9 L1046.1,406.8 L1070.6,401.3 L1075.8,399.2 L1077.8,398.7 L1101.9,394.0 L1109.1,392.2 L1170.1,382.7 L1176.9,381.9 L1203.0,379.7 L1233.6,377.9 L1329.1,373.1 L1369.1,371.6" stroke="#f8d4bc"/>
<path d="M881.9,512.3 L886.7,512.3 L888.7,512.1 L914.8,512.0 L917.6,511.8 L918.4,510.9 L919.2,508.9 L924.4,487.5 L925.1,485.1 L925.9,483.9 L934.7,483.3 L941.0,482.6 L947.7,481.4 L954.5,479.7 L955.3,478.9 L956.1,477.2 L960.8,461.1 L962.0,457.9 L963.2,456.0 L964.0,455.6 L971.5,454.4 L979.1,452.7 L985.8,450.8 L992.1,448.5 L992.9,447.9 L994.1,445.9 L998.5,433.6 L999.7,431.1 L1000.9,429.6 L1001.7,429.1 L1013.5,425.1 L1029.8,418.6 L1031.4,417.4 L1036.1,412.4 L1037.7,411.3 L1038.9,410.8 L1067.9,404.0 L1073.8,401.7 L1076.2,400.9 L1105.1,395.4 L1113.4,393.3 L1143.2,388.8 L1166.6,384.8 L1177.7,383.2 L1201.4,381.0 L1232.8,378.9 L1329.1,373.5 L1369.1,371.8" stroke="#faebdd"/>
</g>
<rect x="315.6" y="45.4" width="475.60" height="270.00" fill="none" stroke="#000" stroke-width="3.2" stroke-linejoin="miter"/>
<line x1="301.60" y1="315.40" x2="315.6" y2="315.40" stroke="#000" stroke-width="3.2"/>
<line x1="301.60" y1="180.40" x2="315.6" y2="180.40" stroke="#000" stroke-width="3.2"/>
<line x1="301.60" y1="45.40" x2="315.6" y2="45.40" stroke="#000" stroke-width="3.2"/>
<line x1="315.60" y1="315.4" x2="315.60" y2="329.40" stroke="#000" stroke-width="3.2"/>
<line x1="513.77" y1="315.4" x2="513.77" y2="329.40" stroke="#000" stroke-width="3.2"/>
<line x1="711.93" y1="315.4" x2="711.93" y2="329.40" stroke="#000" stroke-width="3.2"/>
<rect x="885.9" y="45.4" width="475.30" height="270.00" fill="none" stroke="#000" stroke-width="3.2" stroke-linejoin="miter"/>
<line x1="871.90" y1="315.40" x2="885.9" y2="315.40" stroke="#000" stroke-width="3.2"/>
<line x1="871.90" y1="180.40" x2="885.9" y2="180.40" stroke="#000" stroke-width="3.2"/>
<line x1="871.90" y1="45.40" x2="885.9" y2="45.40" stroke="#000" stroke-width="3.2"/>
<line x1="885.90" y1="315.4" x2="885.90" y2="329.40" stroke="#000" stroke-width="3.2"/>
<line x1="1083.94" y1="315.4" x2="1083.94" y2="329.40" stroke="#000" stroke-width="3.2"/>
<line x1="1281.98" y1="315.4" x2="1281.98" y2="329.40" stroke="#000" stroke-width="3.2"/>
<rect x="315.6" y="369.4" width="475.60" height="270.10" fill="none" stroke="#000" stroke-width="3.2" stroke-linejoin="miter"/>
<line x1="301.60" y1="639.50" x2="315.6" y2="639.50" stroke="#000" stroke-width="3.2"/>
<line x1="301.60" y1="504.45" x2="315.6" y2="504.45" stroke="#000" stroke-width="3.2"/>
<line x1="301.60" y1="369.40" x2="315.6" y2="369.40" stroke="#000" stroke-width="3.2"/>
<line x1="315.60" y1="639.5" x2="315.60" y2="653.50" stroke="#000" stroke-width="3.2"/>
<line x1="513.77" y1="639.5" x2="513.77" y2="653.50" stroke="#000" stroke-width="3.2"/>
<line x1="711.93" y1="639.5" x2="711.93" y2="653.50" stroke="#000" stroke-width="3.2"/>
<rect x="885.9" y="369.4" width="475.30" height="270.10" fill="none" stroke="#000" stroke-width="3.2" stroke-linejoin="miter"/>
<line x1="871.90" y1="639.50" x2="885.9" y2="639.50" stroke="#000" stroke-width="3.2"/>
<line x1="871.90" y1="504.45" x2="885.9" y2="504.45" stroke="#000" stroke-width="3.2"/>
<line x1="871.90" y1="369.40" x2="885.9" y2="369.40" stroke="#000" stroke-width="3.2"/>
<line x1="885.90" y1="639.5" x2="885.90" y2="653.50" stroke="#000" stroke-width="3.2"/>
<line x1="1083.94" y1="639.5" x2="1083.94" y2="653.50" stroke="#000" stroke-width="3.2"/>
<line x1="1281.98" y1="639.5" x2="1281.98" y2="653.50" stroke="#000" stroke-width="3.2"/>
<text x="289.30" y="330.60" font-size="42" text-anchor="end" textLength="54.9" lengthAdjust="spacingAndGlyphs">0.0</text>
<text x="289.30" y="195.60" font-size="42" text-anchor="end" textLength="54.9" lengthAdjust="spacingAndGlyphs">0.5</text>
<text x="289.30" y="60.60" font-size="42" text-anchor="end" textLength="54.9" lengthAdjust="spacingAndGlyphs">1.0</text>
<text x="289.30" y="654.70" font-size="42" text-anchor="end" textLength="54.9" lengthAdjust="spacingAndGlyphs">0.0</text>
<text x="289.30" y="519.65" font-size="42" text-anchor="end" textLength="54.9" lengthAdjust="spacingAndGlyphs">0.5</text>
<text x="289.30" y="384.60" font-size="42" text-anchor="end" textLength="54.9" lengthAdjust="spacingAndGlyphs">1.0</text>
<text x="315.60" y="697.00" font-size="42" text-anchor="middle" textLength="54.9" lengthAdjust="spacingAndGlyphs">0.0</text>
<text x="513.77" y="697.00" font-size="42" text-anchor="middle" textLength="54.9" lengthAdjust="spacingAndGlyphs">0.5</text>
<text x="711.93" y="697.00" font-size="42" text-anchor="middle" textLength="54.9" lengthAdjust="spacingAndGlyphs">1.0</text>
<text x="885.90" y="697.00" font-size="42" text-anchor="middle" textLength="54.9" lengthAdjust="spacingAndGlyphs">0.0</text>
<text x="1083.94" y="697.00" font-size="42" text-anchor="middle" textLength="54.9" lengthAdjust="spacingAndGlyphs">0.5</text>
<text x="1281.98" y="697.00" font-size="42" text-anchor="middle" textLength="54.9" lengthAdjust="spacingAndGlyphs">1.0</text>
<text x="410.20" y="30.00" font-size="42" text-anchor="start" textLength="285.7" lengthAdjust="spacingAndGlyphs">maximum strain</text>
<text x="1060.20" y="29.80" font-size="42" text-anchor="start" textLength="127.0" lengthAdjust="spacingAndGlyphs">relaxed</text>
<text transform="translate(29.90,219.10) rotate(-90)" font-size="42" textLength="78.7" lengthAdjust="spacingAndGlyphs">with</text>
<text transform="translate(74.90,265.40) rotate(-90)" font-size="42" textLength="174.1" lengthAdjust="spacingAndGlyphs">cross-slip:</text>
<text transform="translate(164.80,274.80) rotate(-90)" font-size="42" textLength="188.6" lengthAdjust="spacingAndGlyphs">probability</text>
<text transform="translate(209.90,243.30) rotate(-90)" font-size="42" textLength="125.9" lengthAdjust="spacingAndGlyphs">density</text>
<text transform="translate(29.90,572.10) rotate(-90)" font-size="42" textLength="137.0" lengthAdjust="spacingAndGlyphs">without</text>
<text transform="translate(74.90,589.90) rotate(-90)" font-size="42" textLength="174.1" lengthAdjust="spacingAndGlyphs">cross-slip:</text>
<text transform="translate(164.80,599.30) rotate(-90)" font-size="42" textLength="188.6" lengthAdjust="spacingAndGlyphs">probability</text>
<text transform="translate(209.90,567.80) rotate(-90)" font-size="42" textLength="125.9" lengthAdjust="spacingAndGlyphs">density</text>
<text x="447.8" y="760" font-size="46" font-style="italic">ρ</text><text x="470.4" y="744.7" font-size="32">(0)</text><text x="520.8" y="759.7" font-size="42" textLength="34.9" lengthAdjust="spacingAndGlyphs">in</text><text x="561.4" y="763.5" font-size="46" style="font-family:DejaVu Serif" stroke="#fff" stroke-width="2" textLength="24" lengthAdjust="spacingAndGlyphs">⟨</text><text x="582.1" y="760" font-size="46" font-style="italic">ρ</text><text x="605.1" y="744.7" font-size="32">(0)</text><text x="642.0" y="763.5" font-size="46" style="font-family:DejaVu Serif" stroke="#fff" stroke-width="2" textLength="23.4" lengthAdjust="spacingAndGlyphs">⟩</text>
<text x="1018.0" y="760" font-size="46" font-style="italic">ρ</text><text x="1040.5" y="744.7" font-size="32">(0)</text><text x="1090.9" y="759.7" font-size="42" textLength="34.9" lengthAdjust="spacingAndGlyphs">in</text><text x="1131.5" y="763.5" font-size="46" style="font-family:DejaVu Serif" stroke="#fff" stroke-width="2" textLength="24" lengthAdjust="spacingAndGlyphs">⟨</text><text x="1152.2" y="760" font-size="46" font-style="italic">ρ</text><text x="1175.2" y="744.7" font-size="32">(0)</text><text x="1212.2" y="763.5" font-size="46" style="font-family:DejaVu Serif" stroke="#fff" stroke-width="2" textLength="23.4" lengthAdjust="spacingAndGlyphs">⟩</text>
<rect x="1426.6" y="45.4" width="23.70" height="594.10" fill="url(#cb)"/>
<rect x="1426.6" y="45.4" width="23.70" height="594.10" fill="none" stroke="#000" stroke-width="3.2"/>
<line x1="1450.3" y1="639.50" x2="1464.30" y2="639.50" stroke="#000" stroke-width="3.2"/>
<text x="1477.60" y="649.20" font-size="26" text-anchor="start" textLength="13.4" lengthAdjust="spacingAndGlyphs">4</text>
<line x1="1450.3" y1="604.55" x2="1464.30" y2="604.55" stroke="#000" stroke-width="3.2"/>
<text x="1477.60" y="614.25" font-size="26" text-anchor="start" textLength="13.4" lengthAdjust="spacingAndGlyphs">8</text>
<line x1="1450.3" y1="569.61" x2="1464.30" y2="569.61" stroke="#000" stroke-width="3.2"/>
<text x="1476.60" y="579.31" font-size="26" text-anchor="start" textLength="28.5" lengthAdjust="spacingAndGlyphs">12</text>
<line x1="1450.3" y1="534.66" x2="1464.30" y2="534.66" stroke="#000" stroke-width="3.2"/>
<text x="1476.60" y="544.36" font-size="26" text-anchor="start" textLength="28.5" lengthAdjust="spacingAndGlyphs">16</text>
<line x1="1450.3" y1="499.71" x2="1464.30" y2="499.71" stroke="#000" stroke-width="3.2"/>
<text x="1476.60" y="509.41" font-size="26" text-anchor="start" textLength="28.5" lengthAdjust="spacingAndGlyphs">20</text>
<line x1="1450.3" y1="464.76" x2="1464.30" y2="464.76" stroke="#000" stroke-width="3.2"/>
<text x="1476.60" y="474.46" font-size="26" text-anchor="start" textLength="28.5" lengthAdjust="spacingAndGlyphs">24</text>
<line x1="1450.3" y1="429.82" x2="1464.30" y2="429.82" stroke="#000" stroke-width="3.2"/>
<text x="1476.60" y="439.52" font-size="26" text-anchor="start" textLength="28.5" lengthAdjust="spacingAndGlyphs">28</text>
<line x1="1450.3" y1="394.87" x2="1464.30" y2="394.87" stroke="#000" stroke-width="3.2"/>
<text x="1476.60" y="404.57" font-size="26" text-anchor="start" textLength="28.5" lengthAdjust="spacingAndGlyphs">32</text>
<line x1="1450.3" y1="359.92" x2="1464.30" y2="359.92" stroke="#000" stroke-width="3.2"/>
<text x="1476.60" y="369.62" font-size="26" text-anchor="start" textLength="28.5" lengthAdjust="spacingAndGlyphs">36</text>
<line x1="1450.3" y1="324.98" x2="1464.30" y2="324.98" stroke="#000" stroke-width="3.2"/>
<text x="1476.60" y="334.68" font-size="26" text-anchor="start" textLength="28.5" lengthAdjust="spacingAndGlyphs">40</text>
<line x1="1450.3" y1="290.03" x2="1464.30" y2="290.03" stroke="#000" stroke-width="3.2"/>
<text x="1476.60" y="299.73" font-size="26" text-anchor="start" textLength="28.5" lengthAdjust="spacingAndGlyphs">44</text>
<line x1="1450.3" y1="255.08" x2="1464.30" y2="255.08" stroke="#000" stroke-width="3.2"/>
<text x="1476.60" y="264.78" font-size="26" text-anchor="start" textLength="28.5" lengthAdjust="spacingAndGlyphs">48</text>
<line x1="1450.3" y1="220.14" x2="1464.30" y2="220.14" stroke="#000" stroke-width="3.2"/>
<text x="1476.60" y="229.84" font-size="26" text-anchor="start" textLength="28.5" lengthAdjust="spacingAndGlyphs">52</text>
<line x1="1450.3" y1="185.19" x2="1464.30" y2="185.19" stroke="#000" stroke-width="3.2"/>
<text x="1476.60" y="194.89" font-size="26" text-anchor="start" textLength="28.5" lengthAdjust="spacingAndGlyphs">56</text>
<line x1="1450.3" y1="150.24" x2="1464.30" y2="150.24" stroke="#000" stroke-width="3.2"/>
<text x="1476.60" y="159.94" font-size="26" text-anchor="start" textLength="28.5" lengthAdjust="spacingAndGlyphs">60</text>
<line x1="1450.3" y1="115.29" x2="1464.30" y2="115.29" stroke="#000" stroke-width="3.2"/>
<text x="1476.60" y="124.99" font-size="26" text-anchor="start" textLength="28.5" lengthAdjust="spacingAndGlyphs">64</text>
<line x1="1450.3" y1="80.35" x2="1464.30" y2="80.35" stroke="#000" stroke-width="3.2"/>
<text x="1476.60" y="90.05" font-size="26" text-anchor="start" textLength="28.5" lengthAdjust="spacingAndGlyphs">68</text>
<line x1="1450.3" y1="45.40" x2="1464.30" y2="45.40" stroke="#000" stroke-width="3.2"/>
<text x="1476.60" y="55.10" font-size="26" text-anchor="start" textLength="28.5" lengthAdjust="spacingAndGlyphs">72</text>
<text transform="translate(1550.00,492.10) rotate(-90)" font-size="42" textLength="301.1" lengthAdjust="spacingAndGlyphs">number of voxels</text>
</svg></body></html>
